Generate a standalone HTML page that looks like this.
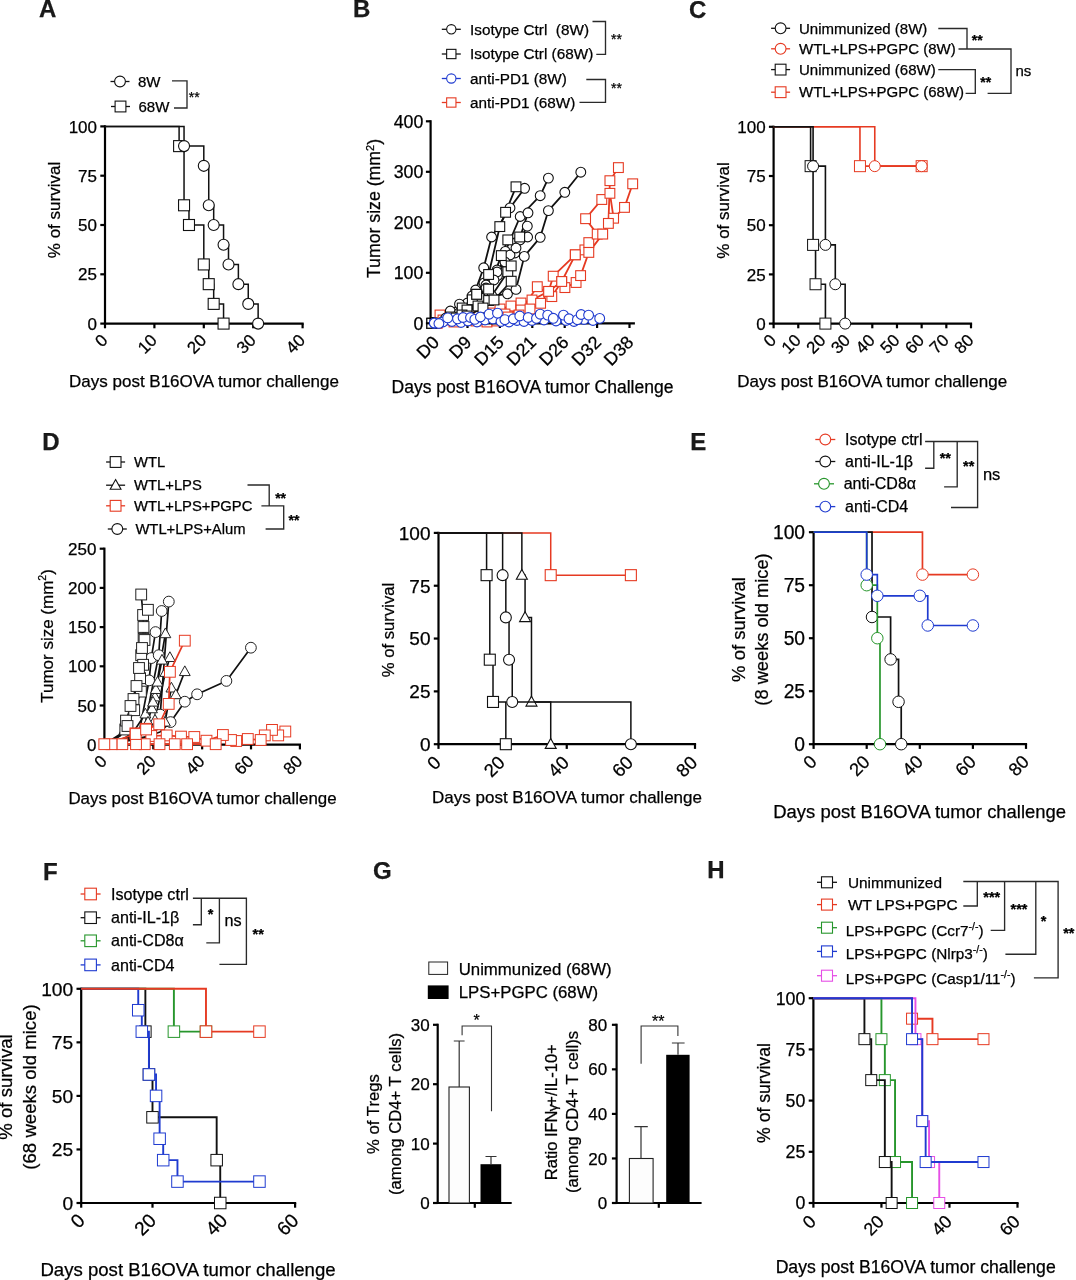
<!DOCTYPE html>
<html lang="en"><head><meta charset="utf-8"><title>Figure</title>
<style>html,body{margin:0;padding:0;background:#fff}svg{display:block}text{font-family:'Liberation Sans', sans-serif;stroke:#000;stroke-width:0.25px}</style>
</head><body>
<svg width="1076" height="1280" viewBox="0 0 1076 1280">
<rect width="1076" height="1280" fill="#fff"/>
<g id="panel-A">
<text x="39" y="17.4" font-size="24" font-weight="bold" fill="#1a1a1a">A</text>
<path d="M105 125.3V323.6" fill="none" stroke="#000" stroke-width="2.2"/>
<path d="M103.9 323.6H303.7" fill="none" stroke="#000" stroke-width="2.2"/>
<line x1="100.3" y1="323.6" x2="105" y2="323.6" stroke="#000" stroke-width="2.2"/>
<text x="97" y="329.72" font-size="17" text-anchor="end">0</text>
<line x1="100.3" y1="274.3" x2="105" y2="274.3" stroke="#000" stroke-width="2.2"/>
<text x="97" y="280.42" font-size="17" text-anchor="end">25</text>
<line x1="100.3" y1="225" x2="105" y2="225" stroke="#000" stroke-width="2.2"/>
<text x="97" y="231.12" font-size="17" text-anchor="end">50</text>
<line x1="100.3" y1="175.7" x2="105" y2="175.7" stroke="#000" stroke-width="2.2"/>
<text x="97" y="181.82" font-size="17" text-anchor="end">75</text>
<line x1="100.3" y1="126.4" x2="105" y2="126.4" stroke="#000" stroke-width="2.2"/>
<text x="97" y="132.52" font-size="17" text-anchor="end">100</text>
<line x1="105" y1="323.6" x2="105" y2="328.3" stroke="#000" stroke-width="2.2"/>
<text x="100" y="332.6" font-size="17" text-anchor="end" transform="rotate(-45 100 332.6)" dy="0.72em">0</text>
<line x1="154.4" y1="323.6" x2="154.4" y2="328.3" stroke="#000" stroke-width="2.2"/>
<text x="149.4" y="332.6" font-size="17" text-anchor="end" transform="rotate(-45 149.4 332.6)" dy="0.72em">10</text>
<line x1="203.8" y1="323.6" x2="203.8" y2="328.3" stroke="#000" stroke-width="2.2"/>
<text x="198.8" y="332.6" font-size="17" text-anchor="end" transform="rotate(-45 198.8 332.6)" dy="0.72em">20</text>
<line x1="253.2" y1="323.6" x2="253.2" y2="328.3" stroke="#000" stroke-width="2.2"/>
<text x="248.2" y="332.6" font-size="17" text-anchor="end" transform="rotate(-45 248.2 332.6)" dy="0.72em">30</text>
<line x1="302.6" y1="323.6" x2="302.6" y2="328.3" stroke="#000" stroke-width="2.2"/>
<text x="297.6" y="332.6" font-size="17" text-anchor="end" transform="rotate(-45 297.6 332.6)" dy="0.72em">40</text>
<path d="M105 126.4H179.1V146.12H184.04V205.28H188.98V225H203.8V264.44H208.74V284.16H213.68V303.88H223.56V323.6" fill="none" stroke="#111" stroke-width="1.5" stroke-linejoin="miter"/>
<rect x="173.6" y="140.62" width="11" height="11" fill="#fff" stroke="#111" stroke-width="1.1"/>
<rect x="178.54" y="199.78" width="11" height="11" fill="#fff" stroke="#111" stroke-width="1.1"/>
<rect x="183.48" y="219.5" width="11" height="11" fill="#fff" stroke="#111" stroke-width="1.1"/>
<rect x="198.3" y="258.94" width="11" height="11" fill="#fff" stroke="#111" stroke-width="1.1"/>
<rect x="203.24" y="278.66" width="11" height="11" fill="#fff" stroke="#111" stroke-width="1.1"/>
<rect x="208.18" y="298.38" width="11" height="11" fill="#fff" stroke="#111" stroke-width="1.1"/>
<rect x="218.06" y="318.1" width="11" height="11" fill="#fff" stroke="#111" stroke-width="1.1"/>
<path d="M105 126.4H184.04V146.12H203.8V165.84H208.74V205.28H213.68V225H223.56V244.72H228.5V264.44H238.38V284.16H248.26V303.88H258.14V323.6" fill="none" stroke="#111" stroke-width="1.5" stroke-linejoin="miter"/>
<circle cx="184.04" cy="146.12" r="5.5" fill="#fff" stroke="#111" stroke-width="1.1"/>
<circle cx="203.8" cy="165.84" r="5.5" fill="#fff" stroke="#111" stroke-width="1.1"/>
<circle cx="208.74" cy="205.28" r="5.5" fill="#fff" stroke="#111" stroke-width="1.1"/>
<circle cx="213.68" cy="225" r="5.5" fill="#fff" stroke="#111" stroke-width="1.1"/>
<circle cx="223.56" cy="244.72" r="5.5" fill="#fff" stroke="#111" stroke-width="1.1"/>
<circle cx="228.5" cy="264.44" r="5.5" fill="#fff" stroke="#111" stroke-width="1.1"/>
<circle cx="238.38" cy="284.16" r="5.5" fill="#fff" stroke="#111" stroke-width="1.1"/>
<circle cx="248.26" cy="303.88" r="5.5" fill="#fff" stroke="#111" stroke-width="1.1"/>
<circle cx="258.14" cy="323.6" r="5.5" fill="#fff" stroke="#111" stroke-width="1.1"/>
<text x="204" y="387" font-size="17" text-anchor="middle">Days post B16OVA tumor challenge</text>
<text x="59.5" y="210" font-size="17" text-anchor="middle" transform="rotate(-90 59.5 210)">% of survival</text>
<line x1="110.5" y1="81.5" x2="129.5" y2="81.5" stroke="#111" stroke-width="1.3"/>
<circle cx="120" cy="81.5" r="5.4" fill="#fff" stroke="#111" stroke-width="1.1"/>
<text x="138" y="86.75" font-size="15">8W</text>
<line x1="111" y1="106.5" x2="130" y2="106.5" stroke="#111" stroke-width="1.3"/>
<rect x="115.1" y="101.1" width="10.8" height="10.8" fill="#fff" stroke="#111" stroke-width="1.1"/>
<text x="138.5" y="111.75" font-size="15">68W</text>
<path d="M172 80.8H187V108H174" fill="none" stroke="#2a2a2a" stroke-width="1.35" stroke-linejoin="miter"/>
<text x="194.2" y="101.5" font-size="14" text-anchor="middle">**</text>
</g>
<g id="panel-B">
<text x="353" y="17.4" font-size="24" font-weight="bold" fill="#1a1a1a">B</text>
<path d="M437 323L446 319L457 321L468 318L479 316L490 313L500 309L511 306L521 303L532 300L548.6 291.4L553.2 276.2L575.3 254.8L584.9 249.9L588.8 242.6L597.2 234.1L585.6 218.7L601.8 199.5L609.9 193.3L613.6 218.2L624.5 207.4L632.7 183.8" fill="none" stroke="#e63a22" stroke-width="1.8" stroke-linejoin="round"/>
<path d="M437 323L440 315L451 314.5L462 318L473 320L484 318L495 317L505 314L521 310L537.3 286.7L551.8 296.6L561.7 281.5L564.9 287.6L576.1 282.5L580.6 275.6L588.8 252.4L602.7 234.1L608.4 223.4L609.9 180.7L618.4 167.6" fill="none" stroke="#e63a22" stroke-width="1.8" stroke-linejoin="round"/>
<path d="M437 323L443 320L454 322L465 320L476 321L487 322L497 321L508 317L519 315L530 309L540.6 303.3L548.6 291.4L561.7 281.5L575.3 254.8" fill="none" stroke="#e63a22" stroke-width="1.8" stroke-linejoin="round"/>
<rect x="432.1" y="318.1" width="9.8" height="9.8" fill="#fff" stroke="#e63a22" stroke-width="1.1"/>
<rect x="441.1" y="314.1" width="9.8" height="9.8" fill="#fff" stroke="#e63a22" stroke-width="1.1"/>
<rect x="452.1" y="316.1" width="9.8" height="9.8" fill="#fff" stroke="#e63a22" stroke-width="1.1"/>
<rect x="463.1" y="313.1" width="9.8" height="9.8" fill="#fff" stroke="#e63a22" stroke-width="1.1"/>
<rect x="474.1" y="311.1" width="9.8" height="9.8" fill="#fff" stroke="#e63a22" stroke-width="1.1"/>
<rect x="485.1" y="308.1" width="9.8" height="9.8" fill="#fff" stroke="#e63a22" stroke-width="1.1"/>
<rect x="495.1" y="304.1" width="9.8" height="9.8" fill="#fff" stroke="#e63a22" stroke-width="1.1"/>
<rect x="506.1" y="301.1" width="9.8" height="9.8" fill="#fff" stroke="#e63a22" stroke-width="1.1"/>
<rect x="516.1" y="298.1" width="9.8" height="9.8" fill="#fff" stroke="#e63a22" stroke-width="1.1"/>
<rect x="527.1" y="295.1" width="9.8" height="9.8" fill="#fff" stroke="#e63a22" stroke-width="1.1"/>
<rect x="543.7" y="286.5" width="9.8" height="9.8" fill="#fff" stroke="#e63a22" stroke-width="1.1"/>
<rect x="548.3" y="271.3" width="9.8" height="9.8" fill="#fff" stroke="#e63a22" stroke-width="1.1"/>
<rect x="570.4" y="249.9" width="9.8" height="9.8" fill="#fff" stroke="#e63a22" stroke-width="1.1"/>
<rect x="580" y="245" width="9.8" height="9.8" fill="#fff" stroke="#e63a22" stroke-width="1.1"/>
<rect x="583.9" y="237.7" width="9.8" height="9.8" fill="#fff" stroke="#e63a22" stroke-width="1.1"/>
<rect x="592.3" y="229.2" width="9.8" height="9.8" fill="#fff" stroke="#e63a22" stroke-width="1.1"/>
<rect x="580.7" y="213.8" width="9.8" height="9.8" fill="#fff" stroke="#e63a22" stroke-width="1.1"/>
<rect x="596.9" y="194.6" width="9.8" height="9.8" fill="#fff" stroke="#e63a22" stroke-width="1.1"/>
<rect x="605" y="188.4" width="9.8" height="9.8" fill="#fff" stroke="#e63a22" stroke-width="1.1"/>
<rect x="608.7" y="213.3" width="9.8" height="9.8" fill="#fff" stroke="#e63a22" stroke-width="1.1"/>
<rect x="619.6" y="202.5" width="9.8" height="9.8" fill="#fff" stroke="#e63a22" stroke-width="1.1"/>
<rect x="627.8" y="178.9" width="9.8" height="9.8" fill="#fff" stroke="#e63a22" stroke-width="1.1"/>
<rect x="432.1" y="318.1" width="9.8" height="9.8" fill="#fff" stroke="#e63a22" stroke-width="1.1"/>
<rect x="435.1" y="310.1" width="9.8" height="9.8" fill="#fff" stroke="#e63a22" stroke-width="1.1"/>
<rect x="446.1" y="309.6" width="9.8" height="9.8" fill="#fff" stroke="#e63a22" stroke-width="1.1"/>
<rect x="457.1" y="313.1" width="9.8" height="9.8" fill="#fff" stroke="#e63a22" stroke-width="1.1"/>
<rect x="468.1" y="315.1" width="9.8" height="9.8" fill="#fff" stroke="#e63a22" stroke-width="1.1"/>
<rect x="479.1" y="313.1" width="9.8" height="9.8" fill="#fff" stroke="#e63a22" stroke-width="1.1"/>
<rect x="490.1" y="312.1" width="9.8" height="9.8" fill="#fff" stroke="#e63a22" stroke-width="1.1"/>
<rect x="500.1" y="309.1" width="9.8" height="9.8" fill="#fff" stroke="#e63a22" stroke-width="1.1"/>
<rect x="516.1" y="305.1" width="9.8" height="9.8" fill="#fff" stroke="#e63a22" stroke-width="1.1"/>
<rect x="532.4" y="281.8" width="9.8" height="9.8" fill="#fff" stroke="#e63a22" stroke-width="1.1"/>
<rect x="546.9" y="291.7" width="9.8" height="9.8" fill="#fff" stroke="#e63a22" stroke-width="1.1"/>
<rect x="556.8" y="276.6" width="9.8" height="9.8" fill="#fff" stroke="#e63a22" stroke-width="1.1"/>
<rect x="560" y="282.7" width="9.8" height="9.8" fill="#fff" stroke="#e63a22" stroke-width="1.1"/>
<rect x="571.2" y="277.6" width="9.8" height="9.8" fill="#fff" stroke="#e63a22" stroke-width="1.1"/>
<rect x="575.7" y="270.7" width="9.8" height="9.8" fill="#fff" stroke="#e63a22" stroke-width="1.1"/>
<rect x="583.9" y="247.5" width="9.8" height="9.8" fill="#fff" stroke="#e63a22" stroke-width="1.1"/>
<rect x="597.8" y="229.2" width="9.8" height="9.8" fill="#fff" stroke="#e63a22" stroke-width="1.1"/>
<rect x="603.5" y="218.5" width="9.8" height="9.8" fill="#fff" stroke="#e63a22" stroke-width="1.1"/>
<rect x="605" y="175.8" width="9.8" height="9.8" fill="#fff" stroke="#e63a22" stroke-width="1.1"/>
<rect x="613.5" y="162.7" width="9.8" height="9.8" fill="#fff" stroke="#e63a22" stroke-width="1.1"/>
<rect x="432.1" y="318.1" width="9.8" height="9.8" fill="#fff" stroke="#e63a22" stroke-width="1.1"/>
<rect x="438.1" y="315.1" width="9.8" height="9.8" fill="#fff" stroke="#e63a22" stroke-width="1.1"/>
<rect x="449.1" y="317.1" width="9.8" height="9.8" fill="#fff" stroke="#e63a22" stroke-width="1.1"/>
<rect x="460.1" y="315.1" width="9.8" height="9.8" fill="#fff" stroke="#e63a22" stroke-width="1.1"/>
<rect x="471.1" y="316.1" width="9.8" height="9.8" fill="#fff" stroke="#e63a22" stroke-width="1.1"/>
<rect x="482.1" y="317.1" width="9.8" height="9.8" fill="#fff" stroke="#e63a22" stroke-width="1.1"/>
<rect x="492.1" y="316.1" width="9.8" height="9.8" fill="#fff" stroke="#e63a22" stroke-width="1.1"/>
<rect x="503.1" y="312.1" width="9.8" height="9.8" fill="#fff" stroke="#e63a22" stroke-width="1.1"/>
<rect x="514.1" y="310.1" width="9.8" height="9.8" fill="#fff" stroke="#e63a22" stroke-width="1.1"/>
<rect x="525.1" y="304.1" width="9.8" height="9.8" fill="#fff" stroke="#e63a22" stroke-width="1.1"/>
<rect x="535.7" y="298.4" width="9.8" height="9.8" fill="#fff" stroke="#e63a22" stroke-width="1.1"/>
<rect x="543.7" y="286.5" width="9.8" height="9.8" fill="#fff" stroke="#e63a22" stroke-width="1.1"/>
<rect x="556.8" y="276.6" width="9.8" height="9.8" fill="#fff" stroke="#e63a22" stroke-width="1.1"/>
<rect x="570.4" y="249.9" width="9.8" height="9.8" fill="#fff" stroke="#e63a22" stroke-width="1.1"/>
<path d="M433 323L445.8 318L456.6 312L467.4 303L475.6 290L483.7 267.8L491.6 237L510 207.9L524.6 188.3" fill="none" stroke="#111" stroke-width="1.8" stroke-linejoin="round"/>
<path d="M433 323L451 316L462 308L473 297L484 283L497.4 275.7L505.3 251.4L520.2 216.5L540.2 195.7L548.4 178.1" fill="none" stroke="#111" stroke-width="1.8" stroke-linejoin="round"/>
<path d="M433 323L450.3 311L459.5 304.2L472 296L486 285L497 270L515 253L528 212.8" fill="none" stroke="#111" stroke-width="1.8" stroke-linejoin="round"/>
<path d="M433 323L462 314L478 305L492 296L507.5 293.8L516 289.4L524.3 256.4L540.2 237.3L548.4 210.6L564.8 192.3L580.8 172.2" fill="none" stroke="#111" stroke-width="1.8" stroke-linejoin="round"/>
<path d="M433 323L459 313L473 301L486 288L497 272L510 255L520 240L527.3 226.2" fill="none" stroke="#111" stroke-width="1.8" stroke-linejoin="round"/>
<path d="M433 323L465 312L481 298L494 280L505 262L516 248L527.6 237" fill="none" stroke="#111" stroke-width="1.8" stroke-linejoin="round"/>
<path d="M431.8 323.3L451 317L462.2 308L472.3 299.8L476.7 294.3L488.6 274.5L499.8 226.6L505.6 212.3L516 186.8" fill="none" stroke="#111" stroke-width="1.8" stroke-linejoin="round"/>
<path d="M431.8 323.3L456 318L467 310L476.7 294.3L488.6 289.1L501.3 255.6L507.8 239.9L519.7 237" fill="none" stroke="#111" stroke-width="1.8" stroke-linejoin="round"/>
<path d="M431.8 323.3L462 315L478 306L488.6 300.5L507.8 271.8L511.2 265.9" fill="none" stroke="#111" stroke-width="1.8" stroke-linejoin="round"/>
<path d="M431.8 323.3L467 316L483 308L494 300L511.2 281.2" fill="none" stroke="#111" stroke-width="1.8" stroke-linejoin="round"/>
<circle cx="433" cy="323" r="4.9" fill="#fff" stroke="#111" stroke-width="1.1"/>
<circle cx="445.8" cy="318" r="4.9" fill="#fff" stroke="#111" stroke-width="1.1"/>
<circle cx="456.6" cy="312" r="4.9" fill="#fff" stroke="#111" stroke-width="1.1"/>
<circle cx="467.4" cy="303" r="4.9" fill="#fff" stroke="#111" stroke-width="1.1"/>
<circle cx="475.6" cy="290" r="4.9" fill="#fff" stroke="#111" stroke-width="1.1"/>
<circle cx="483.7" cy="267.8" r="4.9" fill="#fff" stroke="#111" stroke-width="1.1"/>
<circle cx="491.6" cy="237" r="4.9" fill="#fff" stroke="#111" stroke-width="1.1"/>
<circle cx="510" cy="207.9" r="4.9" fill="#fff" stroke="#111" stroke-width="1.1"/>
<circle cx="524.6" cy="188.3" r="4.9" fill="#fff" stroke="#111" stroke-width="1.1"/>
<circle cx="433" cy="323" r="4.9" fill="#fff" stroke="#111" stroke-width="1.1"/>
<circle cx="451" cy="316" r="4.9" fill="#fff" stroke="#111" stroke-width="1.1"/>
<circle cx="462" cy="308" r="4.9" fill="#fff" stroke="#111" stroke-width="1.1"/>
<circle cx="473" cy="297" r="4.9" fill="#fff" stroke="#111" stroke-width="1.1"/>
<circle cx="484" cy="283" r="4.9" fill="#fff" stroke="#111" stroke-width="1.1"/>
<circle cx="497.4" cy="275.7" r="4.9" fill="#fff" stroke="#111" stroke-width="1.1"/>
<circle cx="505.3" cy="251.4" r="4.9" fill="#fff" stroke="#111" stroke-width="1.1"/>
<circle cx="520.2" cy="216.5" r="4.9" fill="#fff" stroke="#111" stroke-width="1.1"/>
<circle cx="540.2" cy="195.7" r="4.9" fill="#fff" stroke="#111" stroke-width="1.1"/>
<circle cx="548.4" cy="178.1" r="4.9" fill="#fff" stroke="#111" stroke-width="1.1"/>
<circle cx="433" cy="323" r="4.9" fill="#fff" stroke="#111" stroke-width="1.1"/>
<circle cx="450.3" cy="311" r="4.9" fill="#fff" stroke="#111" stroke-width="1.1"/>
<circle cx="459.5" cy="304.2" r="4.9" fill="#fff" stroke="#111" stroke-width="1.1"/>
<circle cx="472" cy="296" r="4.9" fill="#fff" stroke="#111" stroke-width="1.1"/>
<circle cx="486" cy="285" r="4.9" fill="#fff" stroke="#111" stroke-width="1.1"/>
<circle cx="497" cy="270" r="4.9" fill="#fff" stroke="#111" stroke-width="1.1"/>
<circle cx="515" cy="253" r="4.9" fill="#fff" stroke="#111" stroke-width="1.1"/>
<circle cx="528" cy="212.8" r="4.9" fill="#fff" stroke="#111" stroke-width="1.1"/>
<circle cx="433" cy="323" r="4.9" fill="#fff" stroke="#111" stroke-width="1.1"/>
<circle cx="462" cy="314" r="4.9" fill="#fff" stroke="#111" stroke-width="1.1"/>
<circle cx="478" cy="305" r="4.9" fill="#fff" stroke="#111" stroke-width="1.1"/>
<circle cx="492" cy="296" r="4.9" fill="#fff" stroke="#111" stroke-width="1.1"/>
<circle cx="507.5" cy="293.8" r="4.9" fill="#fff" stroke="#111" stroke-width="1.1"/>
<circle cx="516" cy="289.4" r="4.9" fill="#fff" stroke="#111" stroke-width="1.1"/>
<circle cx="524.3" cy="256.4" r="4.9" fill="#fff" stroke="#111" stroke-width="1.1"/>
<circle cx="540.2" cy="237.3" r="4.9" fill="#fff" stroke="#111" stroke-width="1.1"/>
<circle cx="548.4" cy="210.6" r="4.9" fill="#fff" stroke="#111" stroke-width="1.1"/>
<circle cx="564.8" cy="192.3" r="4.9" fill="#fff" stroke="#111" stroke-width="1.1"/>
<circle cx="580.8" cy="172.2" r="4.9" fill="#fff" stroke="#111" stroke-width="1.1"/>
<circle cx="433" cy="323" r="4.9" fill="#fff" stroke="#111" stroke-width="1.1"/>
<circle cx="459" cy="313" r="4.9" fill="#fff" stroke="#111" stroke-width="1.1"/>
<circle cx="473" cy="301" r="4.9" fill="#fff" stroke="#111" stroke-width="1.1"/>
<circle cx="486" cy="288" r="4.9" fill="#fff" stroke="#111" stroke-width="1.1"/>
<circle cx="497" cy="272" r="4.9" fill="#fff" stroke="#111" stroke-width="1.1"/>
<circle cx="510" cy="255" r="4.9" fill="#fff" stroke="#111" stroke-width="1.1"/>
<circle cx="520" cy="240" r="4.9" fill="#fff" stroke="#111" stroke-width="1.1"/>
<circle cx="527.3" cy="226.2" r="4.9" fill="#fff" stroke="#111" stroke-width="1.1"/>
<circle cx="433" cy="323" r="4.9" fill="#fff" stroke="#111" stroke-width="1.1"/>
<circle cx="465" cy="312" r="4.9" fill="#fff" stroke="#111" stroke-width="1.1"/>
<circle cx="481" cy="298" r="4.9" fill="#fff" stroke="#111" stroke-width="1.1"/>
<circle cx="494" cy="280" r="4.9" fill="#fff" stroke="#111" stroke-width="1.1"/>
<circle cx="505" cy="262" r="4.9" fill="#fff" stroke="#111" stroke-width="1.1"/>
<circle cx="516" cy="248" r="4.9" fill="#fff" stroke="#111" stroke-width="1.1"/>
<circle cx="527.6" cy="237" r="4.9" fill="#fff" stroke="#111" stroke-width="1.1"/>
<rect x="426.9" y="318.4" width="9.8" height="9.8" fill="#fff" stroke="#111" stroke-width="1.1"/>
<rect x="446.1" y="312.1" width="9.8" height="9.8" fill="#fff" stroke="#111" stroke-width="1.1"/>
<rect x="457.3" y="303.1" width="9.8" height="9.8" fill="#fff" stroke="#111" stroke-width="1.1"/>
<rect x="467.4" y="294.9" width="9.8" height="9.8" fill="#fff" stroke="#111" stroke-width="1.1"/>
<rect x="471.8" y="289.4" width="9.8" height="9.8" fill="#fff" stroke="#111" stroke-width="1.1"/>
<rect x="483.7" y="269.6" width="9.8" height="9.8" fill="#fff" stroke="#111" stroke-width="1.1"/>
<rect x="494.9" y="221.7" width="9.8" height="9.8" fill="#fff" stroke="#111" stroke-width="1.1"/>
<rect x="500.7" y="207.4" width="9.8" height="9.8" fill="#fff" stroke="#111" stroke-width="1.1"/>
<rect x="511.1" y="181.9" width="9.8" height="9.8" fill="#fff" stroke="#111" stroke-width="1.1"/>
<rect x="426.9" y="318.4" width="9.8" height="9.8" fill="#fff" stroke="#111" stroke-width="1.1"/>
<rect x="451.1" y="313.1" width="9.8" height="9.8" fill="#fff" stroke="#111" stroke-width="1.1"/>
<rect x="462.1" y="305.1" width="9.8" height="9.8" fill="#fff" stroke="#111" stroke-width="1.1"/>
<rect x="471.8" y="289.4" width="9.8" height="9.8" fill="#fff" stroke="#111" stroke-width="1.1"/>
<rect x="483.7" y="284.2" width="9.8" height="9.8" fill="#fff" stroke="#111" stroke-width="1.1"/>
<rect x="496.4" y="250.7" width="9.8" height="9.8" fill="#fff" stroke="#111" stroke-width="1.1"/>
<rect x="502.9" y="235" width="9.8" height="9.8" fill="#fff" stroke="#111" stroke-width="1.1"/>
<rect x="514.8" y="232.1" width="9.8" height="9.8" fill="#fff" stroke="#111" stroke-width="1.1"/>
<rect x="426.9" y="318.4" width="9.8" height="9.8" fill="#fff" stroke="#111" stroke-width="1.1"/>
<rect x="457.1" y="310.1" width="9.8" height="9.8" fill="#fff" stroke="#111" stroke-width="1.1"/>
<rect x="473.1" y="301.1" width="9.8" height="9.8" fill="#fff" stroke="#111" stroke-width="1.1"/>
<rect x="483.7" y="295.6" width="9.8" height="9.8" fill="#fff" stroke="#111" stroke-width="1.1"/>
<rect x="502.9" y="266.9" width="9.8" height="9.8" fill="#fff" stroke="#111" stroke-width="1.1"/>
<rect x="506.3" y="261" width="9.8" height="9.8" fill="#fff" stroke="#111" stroke-width="1.1"/>
<rect x="426.9" y="318.4" width="9.8" height="9.8" fill="#fff" stroke="#111" stroke-width="1.1"/>
<rect x="462.1" y="311.1" width="9.8" height="9.8" fill="#fff" stroke="#111" stroke-width="1.1"/>
<rect x="478.1" y="303.1" width="9.8" height="9.8" fill="#fff" stroke="#111" stroke-width="1.1"/>
<rect x="489.1" y="295.1" width="9.8" height="9.8" fill="#fff" stroke="#111" stroke-width="1.1"/>
<rect x="506.3" y="276.3" width="9.8" height="9.8" fill="#fff" stroke="#111" stroke-width="1.1"/>
<path d="M430.6 120.2V323.3" fill="none" stroke="#000" stroke-width="2.2"/>
<path d="M429.5 323.3H634.9" fill="none" stroke="#000" stroke-width="2.2"/>
<line x1="425.9" y1="323.3" x2="430.6" y2="323.3" stroke="#000" stroke-width="2.2"/>
<text x="423.3" y="329.71" font-size="17.8" text-anchor="end">0</text>
<line x1="425.9" y1="272.8" x2="430.6" y2="272.8" stroke="#000" stroke-width="2.2"/>
<text x="423.3" y="279.21" font-size="17.8" text-anchor="end">100</text>
<line x1="425.9" y1="222.3" x2="430.6" y2="222.3" stroke="#000" stroke-width="2.2"/>
<text x="423.3" y="228.71" font-size="17.8" text-anchor="end">200</text>
<line x1="425.9" y1="171.8" x2="430.6" y2="171.8" stroke="#000" stroke-width="2.2"/>
<text x="423.3" y="178.21" font-size="17.8" text-anchor="end">300</text>
<line x1="425.9" y1="121.3" x2="430.6" y2="121.3" stroke="#000" stroke-width="2.2"/>
<text x="423.3" y="127.71" font-size="17.8" text-anchor="end">400</text>
<text x="431.1" y="334.3" font-size="18" text-anchor="end" transform="rotate(-45 431.1 334.3)" dy="0.72em">D0</text>
<line x1="467.5" y1="323.3" x2="467.5" y2="328" stroke="#000" stroke-width="2.2"/>
<text x="463.5" y="334.3" font-size="18" text-anchor="end" transform="rotate(-45 463.5 334.3)" dy="0.72em">D9</text>
<line x1="499.9" y1="323.3" x2="499.9" y2="328" stroke="#000" stroke-width="2.2"/>
<text x="495.9" y="334.3" font-size="18" text-anchor="end" transform="rotate(-45 495.9 334.3)" dy="0.72em">D15</text>
<line x1="532.3" y1="323.3" x2="532.3" y2="328" stroke="#000" stroke-width="2.2"/>
<text x="528.3" y="334.3" font-size="18" text-anchor="end" transform="rotate(-45 528.3 334.3)" dy="0.72em">D21</text>
<line x1="564.7" y1="323.3" x2="564.7" y2="328" stroke="#000" stroke-width="2.2"/>
<text x="560.7" y="334.3" font-size="18" text-anchor="end" transform="rotate(-45 560.7 334.3)" dy="0.72em">D26</text>
<line x1="597.1" y1="323.3" x2="597.1" y2="328" stroke="#000" stroke-width="2.2"/>
<text x="593.1" y="334.3" font-size="18" text-anchor="end" transform="rotate(-45 593.1 334.3)" dy="0.72em">D32</text>
<line x1="629.5" y1="323.3" x2="629.5" y2="328" stroke="#000" stroke-width="2.2"/>
<text x="625.5" y="334.3" font-size="18" text-anchor="end" transform="rotate(-45 625.5 334.3)" dy="0.72em">D38</text>
<path d="M434.3 323.3L443 322L452 321.5L461 322.5L468 321L477 322L485 320L493 319L501 321.5L509 322L517 320.5L524 321.5L532 320.5L544 320L556 321L566 320.5L574 321.5L584 319.5L593 320.5" fill="none" stroke="#1f3bd0" stroke-width="1.8" stroke-linejoin="round"/>
<path d="M434.3 323L438.9 323.5L447.7 317.9L457.5 318.8L463.1 317.5L470.5 317.5L474.8 319.4L480.4 317L489.1 314.2L497.5 313.2L504.9 319.7L513.3 318.8L519.8 316L528.2 317.5L536.5 318.3L540.2 314.2L547.7 315.1L553.3 318.3L563.5 315.1L569 318.8L577.4 319.7L581.1 314.5L588.6 315.1L599.7 318.4" fill="none" stroke="#1f3bd0" stroke-width="1.8" stroke-linejoin="round"/>
<circle cx="434.3" cy="323.3" r="4.9" fill="#fff" stroke="#1f3bd0" stroke-width="1.1"/>
<circle cx="443" cy="322" r="4.9" fill="#fff" stroke="#1f3bd0" stroke-width="1.1"/>
<circle cx="452" cy="321.5" r="4.9" fill="#fff" stroke="#1f3bd0" stroke-width="1.1"/>
<circle cx="461" cy="322.5" r="4.9" fill="#fff" stroke="#1f3bd0" stroke-width="1.1"/>
<circle cx="468" cy="321" r="4.9" fill="#fff" stroke="#1f3bd0" stroke-width="1.1"/>
<circle cx="477" cy="322" r="4.9" fill="#fff" stroke="#1f3bd0" stroke-width="1.1"/>
<circle cx="485" cy="320" r="4.9" fill="#fff" stroke="#1f3bd0" stroke-width="1.1"/>
<circle cx="493" cy="319" r="4.9" fill="#fff" stroke="#1f3bd0" stroke-width="1.1"/>
<circle cx="501" cy="321.5" r="4.9" fill="#fff" stroke="#1f3bd0" stroke-width="1.1"/>
<circle cx="509" cy="322" r="4.9" fill="#fff" stroke="#1f3bd0" stroke-width="1.1"/>
<circle cx="517" cy="320.5" r="4.9" fill="#fff" stroke="#1f3bd0" stroke-width="1.1"/>
<circle cx="524" cy="321.5" r="4.9" fill="#fff" stroke="#1f3bd0" stroke-width="1.1"/>
<circle cx="532" cy="320.5" r="4.9" fill="#fff" stroke="#1f3bd0" stroke-width="1.1"/>
<circle cx="544" cy="320" r="4.9" fill="#fff" stroke="#1f3bd0" stroke-width="1.1"/>
<circle cx="556" cy="321" r="4.9" fill="#fff" stroke="#1f3bd0" stroke-width="1.1"/>
<circle cx="566" cy="320.5" r="4.9" fill="#fff" stroke="#1f3bd0" stroke-width="1.1"/>
<circle cx="574" cy="321.5" r="4.9" fill="#fff" stroke="#1f3bd0" stroke-width="1.1"/>
<circle cx="584" cy="319.5" r="4.9" fill="#fff" stroke="#1f3bd0" stroke-width="1.1"/>
<circle cx="593" cy="320.5" r="4.9" fill="#fff" stroke="#1f3bd0" stroke-width="1.1"/>
<circle cx="434.3" cy="323" r="4.9" fill="#fff" stroke="#1f3bd0" stroke-width="1.1"/>
<circle cx="438.9" cy="323.5" r="4.9" fill="#fff" stroke="#1f3bd0" stroke-width="1.1"/>
<circle cx="447.7" cy="317.9" r="4.9" fill="#fff" stroke="#1f3bd0" stroke-width="1.1"/>
<circle cx="457.5" cy="318.8" r="4.9" fill="#fff" stroke="#1f3bd0" stroke-width="1.1"/>
<circle cx="463.1" cy="317.5" r="4.9" fill="#fff" stroke="#1f3bd0" stroke-width="1.1"/>
<circle cx="470.5" cy="317.5" r="4.9" fill="#fff" stroke="#1f3bd0" stroke-width="1.1"/>
<circle cx="474.8" cy="319.4" r="4.9" fill="#fff" stroke="#1f3bd0" stroke-width="1.1"/>
<circle cx="480.4" cy="317" r="4.9" fill="#fff" stroke="#1f3bd0" stroke-width="1.1"/>
<circle cx="489.1" cy="314.2" r="4.9" fill="#fff" stroke="#1f3bd0" stroke-width="1.1"/>
<circle cx="497.5" cy="313.2" r="4.9" fill="#fff" stroke="#1f3bd0" stroke-width="1.1"/>
<circle cx="504.9" cy="319.7" r="4.9" fill="#fff" stroke="#1f3bd0" stroke-width="1.1"/>
<circle cx="513.3" cy="318.8" r="4.9" fill="#fff" stroke="#1f3bd0" stroke-width="1.1"/>
<circle cx="519.8" cy="316" r="4.9" fill="#fff" stroke="#1f3bd0" stroke-width="1.1"/>
<circle cx="528.2" cy="317.5" r="4.9" fill="#fff" stroke="#1f3bd0" stroke-width="1.1"/>
<circle cx="536.5" cy="318.3" r="4.9" fill="#fff" stroke="#1f3bd0" stroke-width="1.1"/>
<circle cx="540.2" cy="314.2" r="4.9" fill="#fff" stroke="#1f3bd0" stroke-width="1.1"/>
<circle cx="547.7" cy="315.1" r="4.9" fill="#fff" stroke="#1f3bd0" stroke-width="1.1"/>
<circle cx="553.3" cy="318.3" r="4.9" fill="#fff" stroke="#1f3bd0" stroke-width="1.1"/>
<circle cx="563.5" cy="315.1" r="4.9" fill="#fff" stroke="#1f3bd0" stroke-width="1.1"/>
<circle cx="569" cy="318.8" r="4.9" fill="#fff" stroke="#1f3bd0" stroke-width="1.1"/>
<circle cx="577.4" cy="319.7" r="4.9" fill="#fff" stroke="#1f3bd0" stroke-width="1.1"/>
<circle cx="581.1" cy="314.5" r="4.9" fill="#fff" stroke="#1f3bd0" stroke-width="1.1"/>
<circle cx="588.6" cy="315.1" r="4.9" fill="#fff" stroke="#1f3bd0" stroke-width="1.1"/>
<circle cx="599.7" cy="318.4" r="4.9" fill="#fff" stroke="#1f3bd0" stroke-width="1.1"/>
<text x="532.5" y="393" font-size="17.5" text-anchor="middle">Days post B16OVA tumor Challenge</text>
<text x="380" y="208.5" font-size="17.7" text-anchor="middle" transform="rotate(-90 380 208.5)">Tumor size (mm<tspan font-size="11" dy="-6.5">2</tspan><tspan dy="6.5">)</tspan></text>
<line x1="441.8" y1="29.3" x2="460.8" y2="29.3" stroke="#111" stroke-width="1.3"/>
<circle cx="451.3" cy="29.3" r="4.65" fill="#fff" stroke="#111" stroke-width="1.1"/>
<text x="470" y="34.66" font-size="15.3">Isotype Ctrl  (8W)</text>
<line x1="441.8" y1="54" x2="460.8" y2="54" stroke="#111" stroke-width="1.3"/>
<rect x="446.65" y="49.35" width="9.3" height="9.3" fill="#fff" stroke="#111" stroke-width="1.1"/>
<text x="470" y="59.35" font-size="15.3">Isotype Ctrl (68W)</text>
<line x1="441.8" y1="78.5" x2="460.8" y2="78.5" stroke="#1f3bd0" stroke-width="1.3"/>
<circle cx="451.3" cy="78.5" r="4.65" fill="#fff" stroke="#1f3bd0" stroke-width="1.1"/>
<text x="470" y="83.86" font-size="15.3">anti-PD1 (8W)</text>
<line x1="441.8" y1="102.5" x2="460.8" y2="102.5" stroke="#e63a22" stroke-width="1.3"/>
<rect x="446.65" y="97.85" width="9.3" height="9.3" fill="#fff" stroke="#e63a22" stroke-width="1.1"/>
<text x="470" y="107.86" font-size="15.3">anti-PD1 (68W)</text>
<path d="M592.5 21.5H605.5V54.3H596.3" fill="none" stroke="#2a2a2a" stroke-width="1.35" stroke-linejoin="miter"/>
<path d="M586.3 79.5H605.5V102.3H579.5" fill="none" stroke="#2a2a2a" stroke-width="1.35" stroke-linejoin="miter"/>
<text x="616.4" y="44" font-size="14" text-anchor="middle">**</text>
<text x="616.4" y="93" font-size="14" text-anchor="middle">**</text>
</g>
<g id="panel-C">
<text x="689" y="17.5" font-size="24" font-weight="bold" fill="#1a1a1a">C</text>
<path d="M773.6 125.7V323.6" fill="none" stroke="#000" stroke-width="2.2"/>
<path d="M772.5 323.6H972.1" fill="none" stroke="#000" stroke-width="2.2"/>
<line x1="768.9" y1="323.6" x2="773.6" y2="323.6" stroke="#000" stroke-width="2.2"/>
<text x="765.6" y="329.72" font-size="17" text-anchor="end">0</text>
<line x1="768.9" y1="274.4" x2="773.6" y2="274.4" stroke="#000" stroke-width="2.2"/>
<text x="765.6" y="280.52" font-size="17" text-anchor="end">25</text>
<line x1="768.9" y1="225.2" x2="773.6" y2="225.2" stroke="#000" stroke-width="2.2"/>
<text x="765.6" y="231.32" font-size="17" text-anchor="end">50</text>
<line x1="768.9" y1="176" x2="773.6" y2="176" stroke="#000" stroke-width="2.2"/>
<text x="765.6" y="182.12" font-size="17" text-anchor="end">75</text>
<line x1="768.9" y1="126.8" x2="773.6" y2="126.8" stroke="#000" stroke-width="2.2"/>
<text x="765.6" y="132.92" font-size="17" text-anchor="end">100</text>
<line x1="773.6" y1="323.6" x2="773.6" y2="328.3" stroke="#000" stroke-width="2.2"/>
<text x="768.6" y="332.6" font-size="17" text-anchor="end" transform="rotate(-45 768.6 332.6)" dy="0.72em">0</text>
<line x1="798.27" y1="323.6" x2="798.27" y2="328.3" stroke="#000" stroke-width="2.2"/>
<text x="793.27" y="332.6" font-size="17" text-anchor="end" transform="rotate(-45 793.27 332.6)" dy="0.72em">10</text>
<line x1="822.95" y1="323.6" x2="822.95" y2="328.3" stroke="#000" stroke-width="2.2"/>
<text x="817.95" y="332.6" font-size="17" text-anchor="end" transform="rotate(-45 817.95 332.6)" dy="0.72em">20</text>
<line x1="847.62" y1="323.6" x2="847.62" y2="328.3" stroke="#000" stroke-width="2.2"/>
<text x="842.62" y="332.6" font-size="17" text-anchor="end" transform="rotate(-45 842.62 332.6)" dy="0.72em">30</text>
<line x1="872.3" y1="323.6" x2="872.3" y2="328.3" stroke="#000" stroke-width="2.2"/>
<text x="867.3" y="332.6" font-size="17" text-anchor="end" transform="rotate(-45 867.3 332.6)" dy="0.72em">40</text>
<line x1="896.98" y1="323.6" x2="896.98" y2="328.3" stroke="#000" stroke-width="2.2"/>
<text x="891.98" y="332.6" font-size="17" text-anchor="end" transform="rotate(-45 891.98 332.6)" dy="0.72em">50</text>
<line x1="921.65" y1="323.6" x2="921.65" y2="328.3" stroke="#000" stroke-width="2.2"/>
<text x="916.65" y="332.6" font-size="17" text-anchor="end" transform="rotate(-45 916.65 332.6)" dy="0.72em">60</text>
<line x1="946.33" y1="323.6" x2="946.33" y2="328.3" stroke="#000" stroke-width="2.2"/>
<text x="941.33" y="332.6" font-size="17" text-anchor="end" transform="rotate(-45 941.33 332.6)" dy="0.72em">70</text>
<line x1="971" y1="323.6" x2="971" y2="328.3" stroke="#000" stroke-width="2.2"/>
<text x="966" y="332.6" font-size="17" text-anchor="end" transform="rotate(-45 966 332.6)" dy="0.72em">80</text>
<path d="M773.6 126.8H859.96V166.16H921.65" fill="none" stroke="#e63a22" stroke-width="1.6" stroke-linejoin="miter"/>
<rect x="854.46" y="160.66" width="11" height="11" fill="#fff" stroke="#e63a22" stroke-width="1"/>
<rect x="916.15" y="160.66" width="11" height="11" fill="#fff" stroke="#e63a22" stroke-width="1"/>
<path d="M773.6 126.8H874.77V166.16H921.65" fill="none" stroke="#e63a22" stroke-width="1.6" stroke-linejoin="miter"/>
<circle cx="874.77" cy="166.16" r="5.5" fill="#fff" stroke="#e63a22" stroke-width="1"/>
<circle cx="921.65" cy="166.16" r="5.5" fill="#fff" stroke="#e63a22" stroke-width="1"/>
<path d="M773.6 126.8H810.61V166.16H813.08V244.88H815.55V284.24H825.42V323.6" fill="none" stroke="#111" stroke-width="1.6" stroke-linejoin="miter"/>
<rect x="805.11" y="160.66" width="11" height="11" fill="#fff" stroke="#111" stroke-width="1"/>
<rect x="807.58" y="239.38" width="11" height="11" fill="#fff" stroke="#111" stroke-width="1"/>
<rect x="810.05" y="278.74" width="11" height="11" fill="#fff" stroke="#111" stroke-width="1"/>
<rect x="819.92" y="318.1" width="11" height="11" fill="#fff" stroke="#111" stroke-width="1"/>
<path d="M773.6 126.8H813.08V166.16H825.42V244.88H835.29V284.24H845.16V323.6" fill="none" stroke="#111" stroke-width="1.6" stroke-linejoin="miter"/>
<circle cx="813.08" cy="166.16" r="5.5" fill="#fff" stroke="#111" stroke-width="1"/>
<circle cx="825.42" cy="244.88" r="5.5" fill="#fff" stroke="#111" stroke-width="1"/>
<circle cx="835.29" cy="284.24" r="5.5" fill="#fff" stroke="#111" stroke-width="1"/>
<circle cx="845.16" cy="323.6" r="5.5" fill="#fff" stroke="#111" stroke-width="1"/>
<text x="872.2" y="387" font-size="17" text-anchor="middle">Days post B16OVA tumor challenge</text>
<text x="728.5" y="210.5" font-size="17" text-anchor="middle" transform="rotate(-90 728.5 210.5)">% of survival</text>
<line x1="771.1" y1="28.3" x2="790.1" y2="28.3" stroke="#111" stroke-width="1.3"/>
<circle cx="780.6" cy="28.3" r="5.4" fill="#fff" stroke="#111" stroke-width="1.1"/>
<text x="799" y="33.55" font-size="15">Unimmunized (8W)</text>
<line x1="771.1" y1="48.8" x2="790.1" y2="48.8" stroke="#e63a22" stroke-width="1.3"/>
<circle cx="780.6" cy="48.8" r="5.4" fill="#fff" stroke="#e63a22" stroke-width="1.1"/>
<text x="799" y="54.05" font-size="15">WTL+LPS+PGPC (8W)</text>
<line x1="771.1" y1="69.6" x2="790.1" y2="69.6" stroke="#111" stroke-width="1.3"/>
<rect x="775.2" y="64.2" width="10.8" height="10.8" fill="#fff" stroke="#111" stroke-width="1.1"/>
<text x="799" y="74.85" font-size="15">Unimmunized (68W)</text>
<line x1="771.1" y1="92.2" x2="790.1" y2="92.2" stroke="#e63a22" stroke-width="1.3"/>
<rect x="775.2" y="86.8" width="10.8" height="10.8" fill="#fff" stroke="#e63a22" stroke-width="1.1"/>
<text x="799" y="97.45" font-size="15">WTL+LPS+PGPC (68W)</text>
<path d="M938.3 28.5H967V49M958.5 49H1011V93.4H987.6" fill="none" stroke="#2a2a2a" stroke-width="1.35" stroke-linejoin="miter"/>
<path d="M938.3 69.6H975.3V93.4H965.6" fill="none" stroke="#2a2a2a" stroke-width="1.35" stroke-linejoin="miter"/>
<text x="977.3" y="44.5" font-size="14" text-anchor="middle" font-weight="bold">**</text>
<text x="985.8" y="87.3" font-size="14" text-anchor="middle" font-weight="bold">**</text>
<text x="1015.5" y="76" font-size="15">ns</text>
</g>
<g id="panel-D">
<text x="42.2" y="449.5" font-size="24" font-weight="bold" fill="#1a1a1a">D</text>
<path d="M104.5 744.3L125 738L140 728L149.1 680.4L151.3 658.1L155.5 632.1" fill="none" stroke="#111" stroke-width="1.7" stroke-linejoin="round"/>
<path d="M104.5 744.3L130 738L145 725L158.7 655.2L161.7 611" fill="none" stroke="#111" stroke-width="1.7" stroke-linejoin="round"/>
<path d="M104.5 744.3L135 738L150 726L160.2 714.6L168.8 601.6" fill="none" stroke="#111" stroke-width="1.7" stroke-linejoin="round"/>
<path d="M104.5 744.3L140 739L160 732L170.6 722.1L184.8 701.7L197.1 694.3L226.4 680.9L250.9 647.7" fill="none" stroke="#111" stroke-width="1.7" stroke-linejoin="round"/>
<path d="M104.5 744.3L130 737L145.4 713.9L152 708.7L155 696.8L155.8 689.4L165.4 633.6" fill="none" stroke="#111" stroke-width="1.7" stroke-linejoin="round"/>
<path d="M104.5 744.3L140 736L155 720L165.4 672.3L169.9 657.4" fill="none" stroke="#111" stroke-width="1.7" stroke-linejoin="round"/>
<path d="M104.5 744.3L150 736L165 722L171.4 687.9L175.8 694.6L184.8 671.5" fill="none" stroke="#111" stroke-width="1.7" stroke-linejoin="round"/>
<path d="M104.5 744.3L138 737L148 722L153 702L157.5 682L162 660" fill="none" stroke="#111" stroke-width="1.7" stroke-linejoin="round"/>
<path d="M104.5 744.3L118 737L125.3 729.5L134.2 710.2L140.9 691.6L141.2 655.2L143.6 638.8L143.1 615L141.2 594.5" fill="none" stroke="#111" stroke-width="1.7" stroke-linejoin="round"/>
<path d="M104.5 744.3L119 735L126 720.6L133.5 699L140.1 678.2L143.1 664.8L144.5 640L147.9 609.8" fill="none" stroke="#111" stroke-width="1.7" stroke-linejoin="round"/>
<path d="M104.5 744.3L120 736L127.5 726L130.5 706L136.5 686L139 668L142 648L143.5 627" fill="none" stroke="#111" stroke-width="1.7" stroke-linejoin="round"/>
<circle cx="149.1" cy="680.4" r="5.4" fill="#fff" stroke="#222" stroke-width="1"/>
<circle cx="151.3" cy="658.1" r="5.4" fill="#fff" stroke="#222" stroke-width="1"/>
<circle cx="155.5" cy="632.1" r="5.4" fill="#fff" stroke="#222" stroke-width="1"/>
<circle cx="158.7" cy="655.2" r="5.4" fill="#fff" stroke="#222" stroke-width="1"/>
<circle cx="161.7" cy="611" r="5.4" fill="#fff" stroke="#222" stroke-width="1"/>
<circle cx="160.2" cy="714.6" r="5.4" fill="#fff" stroke="#222" stroke-width="1"/>
<circle cx="168.8" cy="601.6" r="5.4" fill="#fff" stroke="#222" stroke-width="1"/>
<circle cx="170.6" cy="722.1" r="5.4" fill="#fff" stroke="#222" stroke-width="1"/>
<circle cx="184.8" cy="701.7" r="5.4" fill="#fff" stroke="#222" stroke-width="1"/>
<circle cx="197.1" cy="694.3" r="5.4" fill="#fff" stroke="#222" stroke-width="1"/>
<circle cx="226.4" cy="680.9" r="5.4" fill="#fff" stroke="#222" stroke-width="1"/>
<circle cx="250.9" cy="647.7" r="5.4" fill="#fff" stroke="#222" stroke-width="1"/>
<path d="M145.4 708.26L150.8 717.98L140 717.98Z" fill="#fff" stroke="#222" stroke-width="1" stroke-linejoin="miter"/>
<path d="M152 703.06L157.4 712.78L146.6 712.78Z" fill="#fff" stroke="#222" stroke-width="1" stroke-linejoin="miter"/>
<path d="M155 691.16L160.4 700.88L149.6 700.88Z" fill="#fff" stroke="#222" stroke-width="1" stroke-linejoin="miter"/>
<path d="M155.8 683.76L161.2 693.48L150.4 693.48Z" fill="#fff" stroke="#222" stroke-width="1" stroke-linejoin="miter"/>
<path d="M165.4 627.96L170.8 637.68L160 637.68Z" fill="#fff" stroke="#222" stroke-width="1" stroke-linejoin="miter"/>
<path d="M155 714.36L160.4 724.08L149.6 724.08Z" fill="#fff" stroke="#222" stroke-width="1" stroke-linejoin="miter"/>
<path d="M165.4 666.66L170.8 676.38L160 676.38Z" fill="#fff" stroke="#222" stroke-width="1" stroke-linejoin="miter"/>
<path d="M169.9 651.76L175.3 661.48L164.5 661.48Z" fill="#fff" stroke="#222" stroke-width="1" stroke-linejoin="miter"/>
<path d="M165 716.36L170.4 726.08L159.6 726.08Z" fill="#fff" stroke="#222" stroke-width="1" stroke-linejoin="miter"/>
<path d="M171.4 682.26L176.8 691.98L166 691.98Z" fill="#fff" stroke="#222" stroke-width="1" stroke-linejoin="miter"/>
<path d="M175.8 688.96L181.2 698.68L170.4 698.68Z" fill="#fff" stroke="#222" stroke-width="1" stroke-linejoin="miter"/>
<path d="M184.8 665.86L190.2 675.58L179.4 675.58Z" fill="#fff" stroke="#222" stroke-width="1" stroke-linejoin="miter"/>
<path d="M148 716.36L153.4 726.08L142.6 726.08Z" fill="#fff" stroke="#222" stroke-width="1" stroke-linejoin="miter"/>
<path d="M153 696.36L158.4 706.08L147.6 706.08Z" fill="#fff" stroke="#222" stroke-width="1" stroke-linejoin="miter"/>
<path d="M157.5 676.36L162.9 686.08L152.1 686.08Z" fill="#fff" stroke="#222" stroke-width="1" stroke-linejoin="miter"/>
<path d="M162 654.36L167.4 664.08L156.6 664.08Z" fill="#fff" stroke="#222" stroke-width="1" stroke-linejoin="miter"/>
<rect x="119.9" y="724.1" width="10.8" height="10.8" fill="#fff" stroke="#222" stroke-width="1"/>
<rect x="128.8" y="704.8" width="10.8" height="10.8" fill="#fff" stroke="#222" stroke-width="1"/>
<rect x="135.5" y="686.2" width="10.8" height="10.8" fill="#fff" stroke="#222" stroke-width="1"/>
<rect x="135.8" y="649.8" width="10.8" height="10.8" fill="#fff" stroke="#222" stroke-width="1"/>
<rect x="138.2" y="633.4" width="10.8" height="10.8" fill="#fff" stroke="#222" stroke-width="1"/>
<rect x="137.7" y="609.6" width="10.8" height="10.8" fill="#fff" stroke="#222" stroke-width="1"/>
<rect x="135.8" y="589.1" width="10.8" height="10.8" fill="#fff" stroke="#222" stroke-width="1"/>
<rect x="120.6" y="715.2" width="10.8" height="10.8" fill="#fff" stroke="#222" stroke-width="1"/>
<rect x="128.1" y="693.6" width="10.8" height="10.8" fill="#fff" stroke="#222" stroke-width="1"/>
<rect x="134.7" y="672.8" width="10.8" height="10.8" fill="#fff" stroke="#222" stroke-width="1"/>
<rect x="137.7" y="659.4" width="10.8" height="10.8" fill="#fff" stroke="#222" stroke-width="1"/>
<rect x="139.1" y="634.6" width="10.8" height="10.8" fill="#fff" stroke="#222" stroke-width="1"/>
<rect x="142.5" y="604.4" width="10.8" height="10.8" fill="#fff" stroke="#222" stroke-width="1"/>
<rect x="122.1" y="720.6" width="10.8" height="10.8" fill="#fff" stroke="#222" stroke-width="1"/>
<rect x="125.1" y="700.6" width="10.8" height="10.8" fill="#fff" stroke="#222" stroke-width="1"/>
<rect x="131.1" y="680.6" width="10.8" height="10.8" fill="#fff" stroke="#222" stroke-width="1"/>
<rect x="133.6" y="662.6" width="10.8" height="10.8" fill="#fff" stroke="#222" stroke-width="1"/>
<rect x="136.6" y="642.6" width="10.8" height="10.8" fill="#fff" stroke="#222" stroke-width="1"/>
<rect x="138.1" y="621.6" width="10.8" height="10.8" fill="#fff" stroke="#222" stroke-width="1"/>
<path d="M104.4 547.6V744.7" fill="none" stroke="#000" stroke-width="2.2"/>
<path d="M103.3 744.7H301" fill="none" stroke="#000" stroke-width="2.2"/>
<line x1="99.7" y1="744.7" x2="104.4" y2="744.7" stroke="#000" stroke-width="2.2"/>
<text x="96.4" y="750.82" font-size="17" text-anchor="end">0</text>
<line x1="99.7" y1="705.5" x2="104.4" y2="705.5" stroke="#000" stroke-width="2.2"/>
<text x="96.4" y="711.62" font-size="17" text-anchor="end">50</text>
<line x1="99.7" y1="666.3" x2="104.4" y2="666.3" stroke="#000" stroke-width="2.2"/>
<text x="96.4" y="672.42" font-size="17" text-anchor="end">100</text>
<line x1="99.7" y1="627.1" x2="104.4" y2="627.1" stroke="#000" stroke-width="2.2"/>
<text x="96.4" y="633.22" font-size="17" text-anchor="end">150</text>
<line x1="99.7" y1="587.9" x2="104.4" y2="587.9" stroke="#000" stroke-width="2.2"/>
<text x="96.4" y="594.02" font-size="17" text-anchor="end">200</text>
<line x1="99.7" y1="548.7" x2="104.4" y2="548.7" stroke="#000" stroke-width="2.2"/>
<text x="96.4" y="554.82" font-size="17" text-anchor="end">250</text>
<line x1="104.4" y1="744.7" x2="104.4" y2="749.4" stroke="#000" stroke-width="2.2"/>
<text x="99.4" y="753.7" font-size="17" text-anchor="end" transform="rotate(-45 99.4 753.7)" dy="0.72em">0</text>
<line x1="153.28" y1="744.7" x2="153.28" y2="749.4" stroke="#000" stroke-width="2.2"/>
<text x="148.28" y="753.7" font-size="17" text-anchor="end" transform="rotate(-45 148.28 753.7)" dy="0.72em">20</text>
<line x1="202.15" y1="744.7" x2="202.15" y2="749.4" stroke="#000" stroke-width="2.2"/>
<text x="197.15" y="753.7" font-size="17" text-anchor="end" transform="rotate(-45 197.15 753.7)" dy="0.72em">40</text>
<line x1="251.02" y1="744.7" x2="251.02" y2="749.4" stroke="#000" stroke-width="2.2"/>
<text x="246.02" y="753.7" font-size="17" text-anchor="end" transform="rotate(-45 246.02 753.7)" dy="0.72em">60</text>
<line x1="299.9" y1="744.7" x2="299.9" y2="749.4" stroke="#000" stroke-width="2.2"/>
<text x="294.9" y="753.7" font-size="17" text-anchor="end" transform="rotate(-45 294.9 753.7)" dy="0.72em">80</text>
<path d="M104.5 744.3L135.7 734L146.1 729.5L159.2 724.3L168.7 703.9L169.9 671.8L184.8 640.7" fill="none" stroke="#e63a22" stroke-width="1.7" stroke-linejoin="round"/>
<path d="M104.3 744.2L111.5 744.2L122.3 744.2L136 744.2L144.8 744.2L159.5 744.2L174.8 744.2L187.1 744.2L215.7 744.2" fill="none" stroke="#e63a22" stroke-width="1.7" stroke-linejoin="round"/>
<path d="M135.4 733.3L145.8 728.8L151.3 736L166.7 735.4L181 736.6L194.3 737L206.5 740.7L222.9 735L231 740L236.2 741L247.8 739L260.7 740L264.8 735.4L272 729.9L278.2 735.4L285.3 731.5" fill="none" stroke="#e63a22" stroke-width="1.7" stroke-linejoin="round"/>
<rect x="279.9" y="726.1" width="10.8" height="10.8" fill="#fff" stroke="#e63a22" stroke-width="1"/>
<rect x="272.8" y="730" width="10.8" height="10.8" fill="#fff" stroke="#e63a22" stroke-width="1"/>
<rect x="266.6" y="724.5" width="10.8" height="10.8" fill="#fff" stroke="#e63a22" stroke-width="1"/>
<rect x="259.4" y="730" width="10.8" height="10.8" fill="#fff" stroke="#e63a22" stroke-width="1"/>
<rect x="255.3" y="734.6" width="10.8" height="10.8" fill="#fff" stroke="#e63a22" stroke-width="1"/>
<rect x="242.4" y="733.6" width="10.8" height="10.8" fill="#fff" stroke="#e63a22" stroke-width="1"/>
<rect x="230.8" y="735.6" width="10.8" height="10.8" fill="#fff" stroke="#e63a22" stroke-width="1"/>
<rect x="225.6" y="734.6" width="10.8" height="10.8" fill="#fff" stroke="#e63a22" stroke-width="1"/>
<rect x="217.5" y="729.6" width="10.8" height="10.8" fill="#fff" stroke="#e63a22" stroke-width="1"/>
<rect x="201.1" y="735.3" width="10.8" height="10.8" fill="#fff" stroke="#e63a22" stroke-width="1"/>
<rect x="188.9" y="731.6" width="10.8" height="10.8" fill="#fff" stroke="#e63a22" stroke-width="1"/>
<rect x="175.6" y="731.2" width="10.8" height="10.8" fill="#fff" stroke="#e63a22" stroke-width="1"/>
<rect x="161.3" y="730" width="10.8" height="10.8" fill="#fff" stroke="#e63a22" stroke-width="1"/>
<rect x="145.9" y="730.6" width="10.8" height="10.8" fill="#fff" stroke="#e63a22" stroke-width="1"/>
<rect x="140.4" y="723.4" width="10.8" height="10.8" fill="#fff" stroke="#e63a22" stroke-width="1"/>
<rect x="130" y="727.9" width="10.8" height="10.8" fill="#fff" stroke="#e63a22" stroke-width="1"/>
<rect x="210.3" y="738.8" width="10.8" height="10.8" fill="#fff" stroke="#e63a22" stroke-width="1"/>
<rect x="181.7" y="738.8" width="10.8" height="10.8" fill="#fff" stroke="#e63a22" stroke-width="1"/>
<rect x="169.4" y="738.8" width="10.8" height="10.8" fill="#fff" stroke="#e63a22" stroke-width="1"/>
<rect x="154.1" y="738.8" width="10.8" height="10.8" fill="#fff" stroke="#e63a22" stroke-width="1"/>
<rect x="139.4" y="738.8" width="10.8" height="10.8" fill="#fff" stroke="#e63a22" stroke-width="1"/>
<rect x="130.6" y="738.8" width="10.8" height="10.8" fill="#fff" stroke="#e63a22" stroke-width="1"/>
<rect x="116.9" y="738.8" width="10.8" height="10.8" fill="#fff" stroke="#e63a22" stroke-width="1"/>
<rect x="106.1" y="738.8" width="10.8" height="10.8" fill="#fff" stroke="#e63a22" stroke-width="1"/>
<rect x="98.9" y="738.8" width="10.8" height="10.8" fill="#fff" stroke="#e63a22" stroke-width="1"/>
<rect x="130.3" y="728.6" width="10.8" height="10.8" fill="#fff" stroke="#e63a22" stroke-width="1"/>
<rect x="140.7" y="724.1" width="10.8" height="10.8" fill="#fff" stroke="#e63a22" stroke-width="1"/>
<rect x="153.8" y="718.9" width="10.8" height="10.8" fill="#fff" stroke="#e63a22" stroke-width="1"/>
<rect x="163.3" y="698.5" width="10.8" height="10.8" fill="#fff" stroke="#e63a22" stroke-width="1"/>
<rect x="164.5" y="666.4" width="10.8" height="10.8" fill="#fff" stroke="#e63a22" stroke-width="1"/>
<rect x="179.4" y="635.3" width="10.8" height="10.8" fill="#fff" stroke="#e63a22" stroke-width="1"/>
<text x="202.5" y="804" font-size="16.9" text-anchor="middle">Days post B16OVA tumor challenge</text>
<text x="52.5" y="636" font-size="17" text-anchor="middle" transform="rotate(-90 52.5 636)">Tumor size (mm<tspan font-size="10.5" dy="-6.5">2</tspan><tspan dy="6.5">)</tspan></text>
<line x1="106.1" y1="462" x2="125.1" y2="462" stroke="#111" stroke-width="1.3"/>
<rect x="110.2" y="456.6" width="10.8" height="10.8" fill="#fff" stroke="#111" stroke-width="1.1"/>
<text x="134" y="467.18" font-size="14.8">WTL</text>
<line x1="106.1" y1="485.2" x2="125.1" y2="485.2" stroke="#111" stroke-width="1.3"/>
<path d="M115.6 479.56L121 489.28L110.2 489.28Z" fill="#fff" stroke="#111" stroke-width="1.1" stroke-linejoin="miter"/>
<text x="134" y="490.38" font-size="14.8">WTL+LPS</text>
<line x1="106.1" y1="505.8" x2="125.1" y2="505.8" stroke="#e63a22" stroke-width="1.3"/>
<rect x="110.2" y="500.4" width="10.8" height="10.8" fill="#fff" stroke="#e63a22" stroke-width="1.1"/>
<text x="134" y="510.98" font-size="14.8">WTL+LPS+PGPC</text>
<line x1="107.8" y1="529" x2="126.8" y2="529" stroke="#111" stroke-width="1.3"/>
<circle cx="117.3" cy="529" r="5.4" fill="#fff" stroke="#111" stroke-width="1.1"/>
<text x="135.4" y="534.18" font-size="14.8">WTL+LPS+Alum</text>
<path d="M247.5 485H269.2V505.8M261.4 505.8H283.7V529H265.6" fill="none" stroke="#2a2a2a" stroke-width="1.35" stroke-linejoin="miter"/>
<text x="280.6" y="503" font-size="14" text-anchor="middle" font-weight="bold">**</text>
<text x="293.9" y="525.3" font-size="14" text-anchor="middle" font-weight="bold">**</text>
</g>
<g id="panel-Dr">
<path d="M438.5 531.8V744.2" fill="none" stroke="#000" stroke-width="2.2"/>
<path d="M437.4 744.2H696.1" fill="none" stroke="#000" stroke-width="2.2"/>
<line x1="433.8" y1="744.2" x2="438.5" y2="744.2" stroke="#000" stroke-width="2.2"/>
<text x="430.5" y="751.04" font-size="19" text-anchor="end">0</text>
<line x1="433.8" y1="691.38" x2="438.5" y2="691.38" stroke="#000" stroke-width="2.2"/>
<text x="430.5" y="698.22" font-size="19" text-anchor="end">25</text>
<line x1="433.8" y1="638.55" x2="438.5" y2="638.55" stroke="#000" stroke-width="2.2"/>
<text x="430.5" y="645.39" font-size="19" text-anchor="end">50</text>
<line x1="433.8" y1="585.73" x2="438.5" y2="585.73" stroke="#000" stroke-width="2.2"/>
<text x="430.5" y="592.57" font-size="19" text-anchor="end">75</text>
<line x1="433.8" y1="532.9" x2="438.5" y2="532.9" stroke="#000" stroke-width="2.2"/>
<text x="430.5" y="539.74" font-size="19" text-anchor="end">100</text>
<line x1="438.5" y1="744.2" x2="438.5" y2="748.9" stroke="#000" stroke-width="2.2"/>
<text x="432.5" y="754.2" font-size="18.5" text-anchor="end" transform="rotate(-45 432.5 754.2)" dy="0.72em">0</text>
<line x1="502.62" y1="744.2" x2="502.62" y2="748.9" stroke="#000" stroke-width="2.2"/>
<text x="496.62" y="754.2" font-size="18.5" text-anchor="end" transform="rotate(-45 496.62 754.2)" dy="0.72em">20</text>
<line x1="566.75" y1="744.2" x2="566.75" y2="748.9" stroke="#000" stroke-width="2.2"/>
<text x="560.75" y="754.2" font-size="18.5" text-anchor="end" transform="rotate(-45 560.75 754.2)" dy="0.72em">40</text>
<line x1="630.88" y1="744.2" x2="630.88" y2="748.9" stroke="#000" stroke-width="2.2"/>
<text x="624.88" y="754.2" font-size="18.5" text-anchor="end" transform="rotate(-45 624.88 754.2)" dy="0.72em">60</text>
<line x1="695" y1="744.2" x2="695" y2="748.9" stroke="#000" stroke-width="2.2"/>
<text x="689" y="754.2" font-size="18.5" text-anchor="end" transform="rotate(-45 689 754.2)" dy="0.72em">80</text>
<path d="M438.5 532.9H550.72V575.16H630.88" fill="none" stroke="#e63a22" stroke-width="1.5" stroke-linejoin="miter"/>
<rect x="545.22" y="569.66" width="11" height="11" fill="#fff" stroke="#e63a22" stroke-width="1.1"/>
<rect x="625.38" y="569.66" width="11" height="11" fill="#fff" stroke="#e63a22" stroke-width="1.1"/>
<path d="M438.5 532.9H521.86V575.16H525.07V617.42H531.48V701.94H550.72V744.2" fill="none" stroke="#111" stroke-width="1.5" stroke-linejoin="miter"/>
<path d="M521.86 569.42L527.36 579.32L516.36 579.32Z" fill="#fff" stroke="#111" stroke-width="1.1" stroke-linejoin="miter"/>
<path d="M525.07 611.68L530.57 621.58L519.57 621.58Z" fill="#fff" stroke="#111" stroke-width="1.1" stroke-linejoin="miter"/>
<path d="M531.48 696.2L536.98 706.1L525.98 706.1Z" fill="#fff" stroke="#111" stroke-width="1.1" stroke-linejoin="miter"/>
<path d="M550.72 738.46L556.22 748.36L545.22 748.36Z" fill="#fff" stroke="#111" stroke-width="1.1" stroke-linejoin="miter"/>
<path d="M438.5 532.9H502.62V575.16H505.83V617.42H509.04V659.68H512.24V701.94H630.88V744.2" fill="none" stroke="#111" stroke-width="1.5" stroke-linejoin="miter"/>
<circle cx="502.62" cy="575.16" r="5.5" fill="#fff" stroke="#111" stroke-width="1.1"/>
<circle cx="505.83" cy="617.42" r="5.5" fill="#fff" stroke="#111" stroke-width="1.1"/>
<circle cx="509.04" cy="659.68" r="5.5" fill="#fff" stroke="#111" stroke-width="1.1"/>
<circle cx="512.24" cy="701.94" r="5.5" fill="#fff" stroke="#111" stroke-width="1.1"/>
<circle cx="630.88" cy="744.2" r="5.5" fill="#fff" stroke="#111" stroke-width="1.1"/>
<path d="M438.5 532.9H486.59V575.16H489.8V659.68H493.01V701.94H505.83V744.2" fill="none" stroke="#111" stroke-width="1.5" stroke-linejoin="miter"/>
<rect x="481.09" y="569.66" width="11" height="11" fill="#fff" stroke="#111" stroke-width="1.1"/>
<rect x="484.3" y="654.18" width="11" height="11" fill="#fff" stroke="#111" stroke-width="1.1"/>
<rect x="487.51" y="696.44" width="11" height="11" fill="#fff" stroke="#111" stroke-width="1.1"/>
<rect x="500.33" y="738.7" width="11" height="11" fill="#fff" stroke="#111" stroke-width="1.1"/>
<text x="567" y="803" font-size="17" text-anchor="middle">Days post B16OVA tumor challenge</text>
<text x="393.8" y="630" font-size="16.7" text-anchor="middle" transform="rotate(-90 393.8 630)">% of survival</text>
</g>
<g id="panel-E">
<text x="690.2" y="449.5" font-size="24" font-weight="bold" fill="#1a1a1a">E</text>
<path d="M813.6 531.1V744.2" fill="none" stroke="#000" stroke-width="2.2"/>
<path d="M812.5 744.2H1027.1" fill="none" stroke="#000" stroke-width="2.2"/>
<line x1="808.9" y1="744.2" x2="813.6" y2="744.2" stroke="#000" stroke-width="2.2"/>
<text x="805.1" y="751.15" font-size="19.3" text-anchor="end">0</text>
<line x1="808.9" y1="691.2" x2="813.6" y2="691.2" stroke="#000" stroke-width="2.2"/>
<text x="805.1" y="698.15" font-size="19.3" text-anchor="end">25</text>
<line x1="808.9" y1="638.2" x2="813.6" y2="638.2" stroke="#000" stroke-width="2.2"/>
<text x="805.1" y="645.15" font-size="19.3" text-anchor="end">50</text>
<line x1="808.9" y1="585.2" x2="813.6" y2="585.2" stroke="#000" stroke-width="2.2"/>
<text x="805.1" y="592.15" font-size="19.3" text-anchor="end">75</text>
<line x1="808.9" y1="532.2" x2="813.6" y2="532.2" stroke="#000" stroke-width="2.2"/>
<text x="805.1" y="539.15" font-size="19.3" text-anchor="end">100</text>
<line x1="813.6" y1="744.2" x2="813.6" y2="748.9" stroke="#000" stroke-width="2.2"/>
<text x="808.6" y="753.7" font-size="18.2" text-anchor="end" transform="rotate(-45 808.6 753.7)" dy="0.72em">0</text>
<line x1="866.7" y1="744.2" x2="866.7" y2="748.9" stroke="#000" stroke-width="2.2"/>
<text x="861.7" y="753.7" font-size="18.2" text-anchor="end" transform="rotate(-45 861.7 753.7)" dy="0.72em">20</text>
<line x1="919.8" y1="744.2" x2="919.8" y2="748.9" stroke="#000" stroke-width="2.2"/>
<text x="914.8" y="753.7" font-size="18.2" text-anchor="end" transform="rotate(-45 914.8 753.7)" dy="0.72em">40</text>
<line x1="972.9" y1="744.2" x2="972.9" y2="748.9" stroke="#000" stroke-width="2.2"/>
<text x="967.9" y="753.7" font-size="18.2" text-anchor="end" transform="rotate(-45 967.9 753.7)" dy="0.72em">60</text>
<line x1="1026" y1="744.2" x2="1026" y2="748.9" stroke="#000" stroke-width="2.2"/>
<text x="1021" y="753.7" font-size="18.2" text-anchor="end" transform="rotate(-45 1021 753.7)" dy="0.72em">80</text>
<path d="M813.6 532.2H922.46V574.6H972.9" fill="none" stroke="#e63a22" stroke-width="1.7" stroke-linejoin="miter"/>
<circle cx="922.46" cy="574.6" r="5.75" fill="#fff" stroke="#e63a22" stroke-width="1"/>
<circle cx="972.9" cy="574.6" r="5.75" fill="#fff" stroke="#e63a22" stroke-width="1"/>
<path d="M813.6 532.2H872.01V617H890.6V659.4H898.56V701.8H901.22V744.2" fill="none" stroke="#111" stroke-width="1.7" stroke-linejoin="miter"/>
<circle cx="872.01" cy="617" r="5.75" fill="#fff" stroke="#111" stroke-width="1"/>
<circle cx="890.6" cy="659.4" r="5.75" fill="#fff" stroke="#111" stroke-width="1"/>
<circle cx="898.56" cy="701.8" r="5.75" fill="#fff" stroke="#111" stroke-width="1"/>
<circle cx="901.22" cy="744.2" r="5.75" fill="#fff" stroke="#111" stroke-width="1"/>
<path d="M813.6 532.2H866.7V585.2H877.32V638.2H879.98V744.2" fill="none" stroke="#27962c" stroke-width="1.7" stroke-linejoin="miter"/>
<circle cx="866.7" cy="585.2" r="5.75" fill="#fff" stroke="#27962c" stroke-width="1"/>
<circle cx="877.32" cy="638.2" r="5.75" fill="#fff" stroke="#27962c" stroke-width="1"/>
<circle cx="879.98" cy="744.2" r="5.75" fill="#fff" stroke="#27962c" stroke-width="1"/>
<path d="M813.6 532.2H866.7V574.6H877.32V595.8H927.76V625.48H972.9" fill="none" stroke="#1f3bd0" stroke-width="1.7" stroke-linejoin="miter"/>
<circle cx="866.7" cy="574.6" r="5.75" fill="#fff" stroke="#1f3bd0" stroke-width="1"/>
<circle cx="877.32" cy="595.8" r="5.75" fill="#fff" stroke="#1f3bd0" stroke-width="1"/>
<circle cx="927.76" cy="625.48" r="5.75" fill="#fff" stroke="#1f3bd0" stroke-width="1"/>
<circle cx="919.8" cy="595.8" r="5.75" fill="#fff" stroke="#1f3bd0" stroke-width="1"/>
<circle cx="972.9" cy="625.48" r="5.75" fill="#fff" stroke="#1f3bd0" stroke-width="1"/>
<text x="919.7" y="817.5" font-size="18.45" text-anchor="middle">Days post B16OVA tumor challenge</text>
<text x="745" y="629.5" font-size="18.5" text-anchor="middle" transform="rotate(-90 745 629.5)">% of survival</text>
<text x="767.5" y="629.5" font-size="18.3" text-anchor="middle" transform="rotate(-90 767.5 629.5)">(8 weeks old mice)</text>
<line x1="815.3" y1="439.5" x2="835.3" y2="439.5" stroke="#e63a22" stroke-width="1.3"/>
<circle cx="825.3" cy="439.5" r="5.4" fill="#fff" stroke="#e63a22" stroke-width="1.1"/>
<text x="845.1" y="445.1" font-size="16">Isotype ctrl</text>
<line x1="815.3" y1="461.5" x2="835.3" y2="461.5" stroke="#111" stroke-width="1.3"/>
<circle cx="825.3" cy="461.5" r="5.4" fill="#fff" stroke="#111" stroke-width="1.1"/>
<text x="845.1" y="467.1" font-size="16">anti-IL-1β</text>
<line x1="814" y1="483.8" x2="834" y2="483.8" stroke="#27962c" stroke-width="1.3"/>
<circle cx="824" cy="483.8" r="5.4" fill="#fff" stroke="#27962c" stroke-width="1.1"/>
<text x="843.7" y="489.4" font-size="16">anti-CD8α</text>
<line x1="815.3" y1="506.6" x2="835.3" y2="506.6" stroke="#1f3bd0" stroke-width="1.3"/>
<circle cx="825.3" cy="506.6" r="5.4" fill="#fff" stroke="#1f3bd0" stroke-width="1.1"/>
<text x="845.1" y="512.2" font-size="16">anti-CD4</text>
<path d="M925.1 441.5H977.6V507.5H951M933.8 441.5V468.2H925.1M957.2 441.5V486.9H944.1" fill="none" stroke="#2a2a2a" stroke-width="1.35" stroke-linejoin="miter"/>
<text x="945.3" y="462.5" font-size="14.5" text-anchor="middle" font-weight="bold">**</text>
<text x="968.7" y="471.4" font-size="14.5" text-anchor="middle" font-weight="bold">**</text>
<text x="982.9" y="480.3" font-size="16.5">ns</text>
</g>
<g id="panel-F">
<text x="43.1" y="879.5" font-size="24" font-weight="bold" fill="#1a1a1a">F</text>
<path d="M81.2 987.7V1203" fill="none" stroke="#000" stroke-width="2.2"/>
<path d="M80.1 1203H296.2" fill="none" stroke="#000" stroke-width="2.2"/>
<line x1="76.5" y1="1203" x2="81.2" y2="1203" stroke="#000" stroke-width="2.2"/>
<text x="73.2" y="1209.91" font-size="19.2" text-anchor="end">0</text>
<line x1="76.5" y1="1149.45" x2="81.2" y2="1149.45" stroke="#000" stroke-width="2.2"/>
<text x="73.2" y="1156.36" font-size="19.2" text-anchor="end">25</text>
<line x1="76.5" y1="1095.9" x2="81.2" y2="1095.9" stroke="#000" stroke-width="2.2"/>
<text x="73.2" y="1102.81" font-size="19.2" text-anchor="end">50</text>
<line x1="76.5" y1="1042.35" x2="81.2" y2="1042.35" stroke="#000" stroke-width="2.2"/>
<text x="73.2" y="1049.26" font-size="19.2" text-anchor="end">75</text>
<line x1="76.5" y1="988.8" x2="81.2" y2="988.8" stroke="#000" stroke-width="2.2"/>
<text x="73.2" y="995.71" font-size="19.2" text-anchor="end">100</text>
<line x1="81.2" y1="1203" x2="81.2" y2="1207.7" stroke="#000" stroke-width="2.2"/>
<text x="76.2" y="1212" font-size="19.2" text-anchor="end" transform="rotate(-45 76.2 1212)" dy="0.72em">0</text>
<line x1="152.5" y1="1203" x2="152.5" y2="1207.7" stroke="#000" stroke-width="2.2"/>
<text x="147.5" y="1212" font-size="19.2" text-anchor="end" transform="rotate(-45 147.5 1212)" dy="0.72em">20</text>
<line x1="223.8" y1="1203" x2="223.8" y2="1207.7" stroke="#000" stroke-width="2.2"/>
<text x="218.8" y="1212" font-size="19.2" text-anchor="end" transform="rotate(-45 218.8 1212)" dy="0.72em">40</text>
<line x1="295.1" y1="1203" x2="295.1" y2="1207.7" stroke="#000" stroke-width="2.2"/>
<text x="290.1" y="1212" font-size="19.2" text-anchor="end" transform="rotate(-45 290.1 1212)" dy="0.72em">60</text>
<path d="M81.2 988.8H145.37V1031.64H148.94V1074.48H152.5V1117.32H216.67V1160.16H220.24V1203" fill="none" stroke="#111" stroke-width="1.9" stroke-linejoin="miter"/>
<rect x="139.62" y="1025.89" width="11.5" height="11.5" fill="#fff" stroke="#111" stroke-width="1"/>
<rect x="143.19" y="1068.73" width="11.5" height="11.5" fill="#fff" stroke="#111" stroke-width="1"/>
<rect x="146.75" y="1111.57" width="11.5" height="11.5" fill="#fff" stroke="#111" stroke-width="1"/>
<rect x="210.92" y="1154.41" width="11.5" height="11.5" fill="#fff" stroke="#111" stroke-width="1"/>
<rect x="214.49" y="1197.25" width="11.5" height="11.5" fill="#fff" stroke="#111" stroke-width="1"/>
<path d="M81.2 988.8H173.89V1031.64H205.98" fill="none" stroke="#27962c" stroke-width="1.9" stroke-linejoin="miter"/>
<rect x="168.14" y="1025.89" width="11.5" height="11.5" fill="#fff" stroke="#27962c" stroke-width="1"/>
<rect x="200.23" y="1025.89" width="11.5" height="11.5" fill="#fff" stroke="#27962c" stroke-width="1"/>
<path d="M81.2 988.8H138.24V1010.22H141.81V1031.64H148.94V1074.48H156.06V1095.9H159.63V1138.74H163.2V1160.16H177.46V1181.58H259.45" fill="none" stroke="#1f3bd0" stroke-width="1.9" stroke-linejoin="miter"/>
<rect x="132.49" y="1004.47" width="11.5" height="11.5" fill="#fff" stroke="#1f3bd0" stroke-width="1"/>
<rect x="136.06" y="1025.89" width="11.5" height="11.5" fill="#fff" stroke="#1f3bd0" stroke-width="1"/>
<rect x="143.19" y="1068.73" width="11.5" height="11.5" fill="#fff" stroke="#1f3bd0" stroke-width="1"/>
<rect x="150.31" y="1090.15" width="11.5" height="11.5" fill="#fff" stroke="#1f3bd0" stroke-width="1"/>
<rect x="153.88" y="1132.99" width="11.5" height="11.5" fill="#fff" stroke="#1f3bd0" stroke-width="1"/>
<rect x="157.45" y="1154.41" width="11.5" height="11.5" fill="#fff" stroke="#1f3bd0" stroke-width="1"/>
<rect x="171.71" y="1175.83" width="11.5" height="11.5" fill="#fff" stroke="#1f3bd0" stroke-width="1"/>
<rect x="253.7" y="1175.83" width="11.5" height="11.5" fill="#fff" stroke="#1f3bd0" stroke-width="1"/>
<path d="M81.2 988.8H205.98V1031.64H259.45" fill="none" stroke="#e63a22" stroke-width="1.9" stroke-linejoin="miter"/>
<rect x="200.23" y="1025.89" width="11.5" height="11.5" fill="#fff" stroke="#e63a22" stroke-width="1"/>
<rect x="253.7" y="1025.89" width="11.5" height="11.5" fill="#fff" stroke="#e63a22" stroke-width="1"/>
<text x="188" y="1276" font-size="18.6" text-anchor="middle">Days post B16OVA tumor challenge</text>
<text x="12.3" y="1087" font-size="18.6" text-anchor="middle" transform="rotate(-90 12.3 1087)">% of survival</text>
<text x="35.6" y="1087" font-size="18.6" text-anchor="middle" transform="rotate(-90 35.6 1087)">(68 weeks old mice)</text>
<line x1="80.6" y1="894" x2="100.6" y2="894" stroke="#e63a22" stroke-width="1.3"/>
<rect x="84.8" y="888.2" width="11.6" height="11.6" fill="#fff" stroke="#e63a22" stroke-width="1.1"/>
<text x="111" y="899.63" font-size="16.1">Isotype ctrl</text>
<line x1="80.6" y1="917.7" x2="100.6" y2="917.7" stroke="#111" stroke-width="1.3"/>
<rect x="84.8" y="911.9" width="11.6" height="11.6" fill="#fff" stroke="#111" stroke-width="1.1"/>
<text x="111" y="923.34" font-size="16.1">anti-IL-1β</text>
<line x1="80.6" y1="940.8" x2="100.6" y2="940.8" stroke="#27962c" stroke-width="1.3"/>
<rect x="84.8" y="935" width="11.6" height="11.6" fill="#fff" stroke="#27962c" stroke-width="1.1"/>
<text x="111" y="946.43" font-size="16.1">anti-CD8α</text>
<line x1="80.6" y1="964.9" x2="100.6" y2="964.9" stroke="#1f3bd0" stroke-width="1.3"/>
<rect x="84.8" y="959.1" width="11.6" height="11.6" fill="#fff" stroke="#1f3bd0" stroke-width="1.1"/>
<text x="111" y="970.53" font-size="16.1">anti-CD4</text>
<path d="M192.9 898.2H246.4V964.3H219.4M201.3 898.2V924.7H192.9M219.4 898.2V942.8H206.3" fill="none" stroke="#2a2a2a" stroke-width="1.35" stroke-linejoin="miter"/>
<text x="210.5" y="919" font-size="14.5" text-anchor="middle" font-weight="bold">*</text>
<text x="224.6" y="925.5" font-size="16.2">ns</text>
<text x="258.2" y="938.5" font-size="14.5" text-anchor="middle" font-weight="bold">**</text>
</g>
<g id="panel-G">
<text x="372.9" y="879.3" font-size="24" font-weight="bold" fill="#1a1a1a">G</text>
<rect x="428.8" y="962" width="18.8" height="12.4" fill="#fcfcfc" stroke="#222" stroke-width="1"/>
<rect x="427.8" y="985.4" width="20.8" height="13.6" fill="#000"/>
<text x="458.7" y="974.6" font-size="16.8">Unimmunized (68W)</text>
<text x="458.7" y="998.2" font-size="16.8">LPS+PGPC (68W)</text>
<path d="M437.7 1023.7V1203" fill="none" stroke="#000" stroke-width="2.2"/>
<path d="M436.6 1203H511.7" fill="none" stroke="#000" stroke-width="2.2"/>
<line x1="433" y1="1203" x2="437.7" y2="1203" stroke="#000" stroke-width="2.2"/>
<text x="429.7" y="1209.12" font-size="17" text-anchor="end">0</text>
<line x1="433" y1="1143.6" x2="437.7" y2="1143.6" stroke="#000" stroke-width="2.2"/>
<text x="429.7" y="1149.72" font-size="17" text-anchor="end">10</text>
<line x1="433" y1="1084.2" x2="437.7" y2="1084.2" stroke="#000" stroke-width="2.2"/>
<text x="429.7" y="1090.32" font-size="17" text-anchor="end">20</text>
<line x1="433" y1="1024.8" x2="437.7" y2="1024.8" stroke="#000" stroke-width="2.2"/>
<text x="429.7" y="1030.92" font-size="17" text-anchor="end">30</text>
<line x1="474.8" y1="1203" x2="474.8" y2="1207.8" stroke="#000" stroke-width="2.2"/>
<rect x="449" y="1087" width="20.4" height="116" fill="#fdfdfd" stroke="#222" stroke-width="1.1"/>
<rect x="480.5" y="1164.2" width="20.7" height="38.8" fill="#000"/>
<path d="M459.2 1087V1041M453.8 1041H464.6" fill="none" stroke="#333" stroke-width="1.2" stroke-linejoin="miter"/>
<path d="M491 1164.2V1156.5M485.5 1156.5H496.5" fill="none" stroke="#333" stroke-width="1.2" stroke-linejoin="miter"/>
<path d="M462.1 1035.2V1026H491.5V1111.3" fill="none" stroke="#333" stroke-width="1.1" stroke-linejoin="miter"/>
<text x="476.7" y="1026" font-size="16" text-anchor="middle">*</text>
<text x="378.5" y="1114" font-size="16.7" text-anchor="middle" transform="rotate(-90 378.5 1114)">% of Tregs</text>
<text x="401" y="1114" font-size="16.7" text-anchor="middle" transform="rotate(-90 401 1114)">(among CD4+ T cells)</text>
<path d="M616.6 1023.7V1203" fill="none" stroke="#000" stroke-width="2.2"/>
<path d="M615.5 1203H701.6" fill="none" stroke="#000" stroke-width="2.2"/>
<line x1="611.9" y1="1203" x2="616.6" y2="1203" stroke="#000" stroke-width="2.2"/>
<text x="607.1" y="1209.12" font-size="17" text-anchor="end">0</text>
<line x1="611.9" y1="1158.45" x2="616.6" y2="1158.45" stroke="#000" stroke-width="2.2"/>
<text x="607.1" y="1164.57" font-size="17" text-anchor="end">20</text>
<line x1="611.9" y1="1113.9" x2="616.6" y2="1113.9" stroke="#000" stroke-width="2.2"/>
<text x="607.1" y="1120.02" font-size="17" text-anchor="end">40</text>
<line x1="611.9" y1="1069.35" x2="616.6" y2="1069.35" stroke="#000" stroke-width="2.2"/>
<text x="607.1" y="1075.47" font-size="17" text-anchor="end">60</text>
<line x1="611.9" y1="1024.8" x2="616.6" y2="1024.8" stroke="#000" stroke-width="2.2"/>
<text x="607.1" y="1030.92" font-size="17" text-anchor="end">80</text>
<line x1="658.8" y1="1203" x2="658.8" y2="1207.8" stroke="#000" stroke-width="2.2"/>
<rect x="629.4" y="1158.5" width="23.7" height="44.5" fill="#fdfdfd" stroke="#222" stroke-width="1.1"/>
<rect x="666.2" y="1054.8" width="23.4" height="148.2" fill="#000"/>
<path d="M641 1158.5V1126.7M634.4 1126.7H647.8" fill="none" stroke="#333" stroke-width="1.2" stroke-linejoin="miter"/>
<path d="M678 1054.8V1043M671.9 1043H684.6" fill="none" stroke="#333" stroke-width="1.2" stroke-linejoin="miter"/>
<path d="M641.1 1063.8V1026H677.9V1036" fill="none" stroke="#333" stroke-width="1.1" stroke-linejoin="miter"/>
<text x="658.3" y="1026.5" font-size="16" text-anchor="middle">**</text>
<text x="557.3" y="1112.2" font-size="16.5" text-anchor="middle" transform="rotate(-90 557.3 1112.2)">Ratio IFN<tspan font-size="13.5" dx="-0.8">γ</tspan><tspan dx="-1.2">+/IL-10+</tspan></text>
<text x="577.5" y="1112" font-size="16.7" text-anchor="middle" transform="rotate(-90 577.5 1112)">(among CD4+ T cell)s</text>
</g>
<g id="panel-H">
<text x="707.3" y="877.7" font-size="24" font-weight="bold" fill="#1a1a1a">H</text>
<path d="M813.4 997.1V1203" fill="none" stroke="#000" stroke-width="2.2"/>
<path d="M812.3 1203H1018.6" fill="none" stroke="#000" stroke-width="2.2"/>
<line x1="808.7" y1="1203" x2="813.4" y2="1203" stroke="#000" stroke-width="2.2"/>
<text x="805.4" y="1209.41" font-size="17.8" text-anchor="end">0</text>
<line x1="808.7" y1="1151.8" x2="813.4" y2="1151.8" stroke="#000" stroke-width="2.2"/>
<text x="805.4" y="1158.21" font-size="17.8" text-anchor="end">25</text>
<line x1="808.7" y1="1100.6" x2="813.4" y2="1100.6" stroke="#000" stroke-width="2.2"/>
<text x="805.4" y="1107.01" font-size="17.8" text-anchor="end">50</text>
<line x1="808.7" y1="1049.4" x2="813.4" y2="1049.4" stroke="#000" stroke-width="2.2"/>
<text x="805.4" y="1055.81" font-size="17.8" text-anchor="end">75</text>
<line x1="808.7" y1="998.2" x2="813.4" y2="998.2" stroke="#000" stroke-width="2.2"/>
<text x="805.4" y="1004.61" font-size="17.8" text-anchor="end">100</text>
<line x1="813.4" y1="1203" x2="813.4" y2="1207.7" stroke="#000" stroke-width="2.2"/>
<text x="807.9" y="1213.5" font-size="18" text-anchor="end" transform="rotate(-45 807.9 1213.5)" dy="0.72em">0</text>
<line x1="881.43" y1="1203" x2="881.43" y2="1207.7" stroke="#000" stroke-width="2.2"/>
<text x="875.93" y="1213.5" font-size="18" text-anchor="end" transform="rotate(-45 875.93 1213.5)" dy="0.72em">20</text>
<line x1="949.47" y1="1203" x2="949.47" y2="1207.7" stroke="#000" stroke-width="2.2"/>
<text x="943.97" y="1213.5" font-size="18" text-anchor="end" transform="rotate(-45 943.97 1213.5)" dy="0.72em">40</text>
<line x1="1017.5" y1="1203" x2="1017.5" y2="1207.7" stroke="#000" stroke-width="2.2"/>
<text x="1012" y="1213.5" font-size="18" text-anchor="end" transform="rotate(-45 1012 1213.5)" dy="0.72em">60</text>
<path d="M813.4 998.2H912.05V1018.68H932.46V1039.16H983.48" fill="none" stroke="#e63a22" stroke-width="1.9" stroke-linejoin="miter"/>
<rect x="906.55" y="1013.18" width="11" height="11" fill="#fff" stroke="#e63a22" stroke-width="1"/>
<rect x="926.96" y="1033.66" width="11" height="11" fill="#fff" stroke="#e63a22" stroke-width="1"/>
<rect x="977.98" y="1033.66" width="11" height="11" fill="#fff" stroke="#e63a22" stroke-width="1"/>
<path d="M813.4 998.2H881.43V1039.16H884.84V1080.12H895.04V1162.04H912.05V1203" fill="none" stroke="#27962c" stroke-width="1.9" stroke-linejoin="miter"/>
<rect x="875.93" y="1033.66" width="11" height="11" fill="#fff" stroke="#27962c" stroke-width="1"/>
<rect x="879.34" y="1074.62" width="11" height="11" fill="#fff" stroke="#27962c" stroke-width="1"/>
<rect x="889.54" y="1156.54" width="11" height="11" fill="#fff" stroke="#27962c" stroke-width="1"/>
<rect x="906.55" y="1197.5" width="11" height="11" fill="#fff" stroke="#27962c" stroke-width="1"/>
<path d="M813.4 998.2H864.42V1039.16H871.23V1080.12H884.84V1162.04H891.64V1203" fill="none" stroke="#111" stroke-width="1.9" stroke-linejoin="miter"/>
<rect x="858.92" y="1033.66" width="11" height="11" fill="#fff" stroke="#111" stroke-width="1"/>
<rect x="865.73" y="1074.62" width="11" height="11" fill="#fff" stroke="#111" stroke-width="1"/>
<rect x="879.34" y="1156.54" width="11" height="11" fill="#fff" stroke="#111" stroke-width="1"/>
<rect x="886.14" y="1197.5" width="11" height="11" fill="#fff" stroke="#111" stroke-width="1"/>
<path d="M813.4 998.2H915.45V1039.16H922.25V1121.08H929.06V1162.04H939.26V1203" fill="none" stroke="#e64fe6" stroke-width="1.9" stroke-linejoin="miter"/>
<rect x="909.95" y="1033.66" width="11" height="11" fill="#fff" stroke="#e64fe6" stroke-width="1"/>
<rect x="916.75" y="1115.58" width="11" height="11" fill="#fff" stroke="#e64fe6" stroke-width="1"/>
<rect x="923.56" y="1156.54" width="11" height="11" fill="#fff" stroke="#e64fe6" stroke-width="1"/>
<rect x="933.76" y="1197.5" width="11" height="11" fill="#fff" stroke="#e64fe6" stroke-width="1"/>
<path d="M813.4 998.2H912.05V1039.16H922.25V1121.08H925.65V1162.04H983.48" fill="none" stroke="#1f3bd0" stroke-width="1.9" stroke-linejoin="miter"/>
<rect x="906.55" y="1033.66" width="11" height="11" fill="#fff" stroke="#1f3bd0" stroke-width="1"/>
<rect x="916.75" y="1115.58" width="11" height="11" fill="#fff" stroke="#1f3bd0" stroke-width="1"/>
<rect x="920.15" y="1156.54" width="11" height="11" fill="#fff" stroke="#1f3bd0" stroke-width="1"/>
<rect x="977.98" y="1156.54" width="11" height="11" fill="#fff" stroke="#1f3bd0" stroke-width="1"/>
<text x="915.7" y="1273" font-size="17.65" text-anchor="middle">Days post B16OVA tumor challenge</text>
<text x="770" y="1093" font-size="17.6" text-anchor="middle" transform="rotate(-90 770 1093)">% of survival</text>
<line x1="817" y1="882.3" x2="837" y2="882.3" stroke="#111" stroke-width="1.3"/>
<rect x="821.5" y="876.8" width="11" height="11" fill="#fff" stroke="#111" stroke-width="1.1"/>
<text x="847.9" y="887.69" font-size="15.4">Unimmunized</text>
<line x1="817" y1="904.6" x2="837" y2="904.6" stroke="#e63a22" stroke-width="1.3"/>
<rect x="821.5" y="899.1" width="11" height="11" fill="#fff" stroke="#e63a22" stroke-width="1.1"/>
<text x="847.9" y="909.99" font-size="15.4">WT LPS+PGPC</text>
<line x1="817" y1="927.7" x2="837" y2="927.7" stroke="#27962c" stroke-width="1.3"/>
<rect x="821.5" y="922.2" width="11" height="11" fill="#fff" stroke="#27962c" stroke-width="1.1"/>
<text x="845.7" y="935.6" font-size="15.3">LPS+PGPC (Ccr7<tspan font-size="10.5" dy="-6">-/-</tspan><tspan dy="6">)</tspan></text>
<line x1="817" y1="951.4" x2="837" y2="951.4" stroke="#1f3bd0" stroke-width="1.3"/>
<rect x="821.5" y="945.9" width="11" height="11" fill="#fff" stroke="#1f3bd0" stroke-width="1.1"/>
<text x="845.7" y="959.4" font-size="15.3">LPS+PGPC (Nlrp3<tspan font-size="10.5" dy="-6">-/-</tspan><tspan dy="6">)</tspan></text>
<line x1="817" y1="975.7" x2="837" y2="975.7" stroke="#e64fe6" stroke-width="1.3"/>
<rect x="821.5" y="970.2" width="11" height="11" fill="#fff" stroke="#e64fe6" stroke-width="1.1"/>
<text x="845.7" y="983.6" font-size="15.3">LPS+PGPC (Casp1/11<tspan font-size="10.5" dy="-6">-/-</tspan><tspan dy="6">)</tspan></text>
<path d="M963.3 881.5H1058.1V977.9H1033.9M977.3 881.5V906H963.3M1004.6 881.5V930.3H990.7M1035.8 881.5V954.2H1005.4" fill="none" stroke="#2a2a2a" stroke-width="1.35" stroke-linejoin="miter"/>
<text x="991.8" y="902" font-size="14.5" text-anchor="middle" font-weight="bold">***</text>
<text x="1019" y="913.8" font-size="14.5" text-anchor="middle" font-weight="bold">***</text>
<text x="1043.6" y="925.5" font-size="14.5" text-anchor="middle" font-weight="bold">*</text>
<text x="1063.2" y="938" font-size="14.5" font-weight="bold">**</text>
</g>
</svg>
</body></html>
